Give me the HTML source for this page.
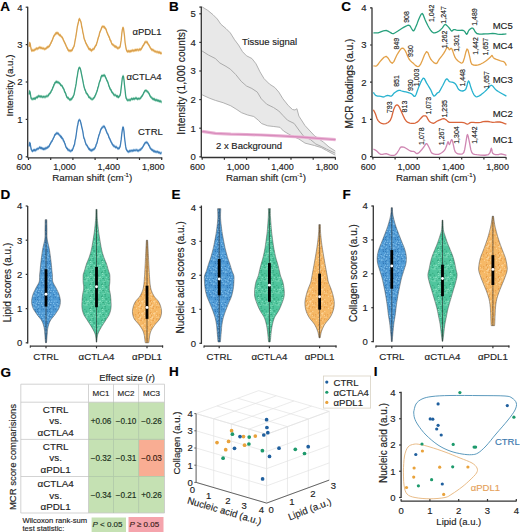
<!DOCTYPE html>
<html><head><meta charset="utf-8"><style>
html,body{margin:0;padding:0;background:#fff;}
svg{display:block;font-family:"Liberation Sans",sans-serif;}
</style></head><body>
<svg width="520" height="532" viewBox="0 0 520 532" font-family="Liberation Sans, sans-serif">
<rect width="520" height="532" fill="#fff"/>
<text x="0.3" y="11" font-size="13.5" text-anchor="start" fill="#000" font-weight="bold"  stroke="#000" stroke-width="0.15">A</text>
<line x1="27.7" y1="6.8" x2="27.7" y2="157.8" stroke="#333" stroke-width="1.3" />
<line x1="25.7" y1="156.8" x2="27.7" y2="156.8" stroke="#333" stroke-width="1.2" />
<text x="22.5" y="160.1" font-size="9.5" text-anchor="end" fill="#222"  stroke="#222" stroke-width="0.15">0</text>
<line x1="25.7" y1="119.4" x2="27.7" y2="119.4" stroke="#333" stroke-width="1.2" />
<text x="22.5" y="122.7" font-size="9.5" text-anchor="end" fill="#222"  stroke="#222" stroke-width="0.15">1</text>
<line x1="25.7" y1="82" x2="27.7" y2="82" stroke="#333" stroke-width="1.2" />
<text x="22.5" y="85.3" font-size="9.5" text-anchor="end" fill="#222"  stroke="#222" stroke-width="0.15">2</text>
<line x1="25.7" y1="44.6" x2="27.7" y2="44.6" stroke="#333" stroke-width="1.2" />
<text x="22.5" y="47.9" font-size="9.5" text-anchor="end" fill="#222"  stroke="#222" stroke-width="0.15">3</text>
<line x1="25.7" y1="7.2" x2="27.7" y2="7.2" stroke="#333" stroke-width="1.2" />
<text x="22.5" y="10.5" font-size="9.5" text-anchor="end" fill="#222"  stroke="#222" stroke-width="0.15">4</text>
<line x1="27.7" y1="157.8" x2="162.3" y2="157.8" stroke="#333" stroke-width="1.3" />
<line x1="28.5" y1="157.8" x2="28.5" y2="160" stroke="#333" stroke-width="1.2" />
<line x1="50.7" y1="157.8" x2="50.7" y2="160" stroke="#333" stroke-width="1.2" />
<line x1="72.9" y1="157.8" x2="72.9" y2="160" stroke="#333" stroke-width="1.2" />
<line x1="95.1" y1="157.8" x2="95.1" y2="160" stroke="#333" stroke-width="1.2" />
<line x1="117.3" y1="157.8" x2="117.3" y2="160" stroke="#333" stroke-width="1.2" />
<line x1="139.5" y1="157.8" x2="139.5" y2="160" stroke="#333" stroke-width="1.2" />
<line x1="161.7" y1="157.8" x2="161.7" y2="160" stroke="#333" stroke-width="1.2" />
<text x="31.3" y="170" font-size="9" text-anchor="end" fill="#222"  stroke="#222" stroke-width="0.15">600</text>
<text x="75.7" y="170" font-size="9" text-anchor="end" fill="#222"  stroke="#222" stroke-width="0.15">1,000</text>
<text x="120.1" y="170" font-size="9" text-anchor="end" fill="#222"  stroke="#222" stroke-width="0.15">1,400</text>
<text x="164.5" y="170" font-size="9" text-anchor="end" fill="#222"  stroke="#222" stroke-width="0.15">1,800</text>
<text x="52.3" y="180.8" font-size="9.8" fill="#222" stroke="#222" stroke-width="0.15">Raman shift (cm<tspan font-size="6" dy="-3.5">-1</tspan><tspan dy="3.5">)</tspan></text>
<text x="12.8" y="85.5" font-size="9.8" text-anchor="middle" fill="#222" transform="rotate(-90 12.8 85.5)"  stroke="#222" stroke-width="0.15">Intensity (a.u.)</text>
<path d="M29.05 144.89 L29.61 141.12 L30.16 141.58 L30.72 145.26 L31.27 148.12 L31.83 148.55 L32.38 149.81 L32.94 149.17 L33.49 148.44 L34.05 148.7 L34.61 148.18 L35.16 149.01 L35.72 148.25 L36.27 148.21 L36.83 147.45 L37.38 147.05 L37.94 147.46 L38.49 146.9 L39.05 146.61 L39.6 145.64 L40.16 145.83 L40.71 146.72 L41.27 146.01 L41.82 147.08 L42.38 146.63 L42.93 147.46 L43.48 147.76 L44.04 146.66 L44.59 147.56 L45.15 147.49 L45.7 146.33 L46.26 146.28 L46.81 146.8 L47.37 145.56 L47.92 145.71 L48.48 145 L49.03 145.01 L49.59 143.27 L50.14 142.74 L50.7 141.37 L51.25 140.36 L51.81 139.97 L52.36 138.64 L52.92 137.63 L53.47 136.42 L54.03 135.36 L54.59 134.01 L55.14 132.73 L55.7 132.88 L56.25 131.55 L56.8 131.82 L57.36 131.91 L57.91 131.48 L58.47 132.37 L59.02 133.13 L59.58 133.52 L60.14 133.86 L60.69 135.37 L61.24 134.78 L61.8 136.74 L62.35 136.51 L62.91 137.25 L63.46 139.39 L64.02 139.53 L64.57 141.4 L65.13 142.48 L65.69 144.61 L66.24 145.84 L66.8 146.79 L67.35 146.71 L67.91 148.49 L68.46 148.3 L69.02 148.46 L69.57 148.69 L70.12 149.61 L70.68 149.58 L71.23 149.18 L71.79 148.49 L72.34 148.8 L72.9 147.05 L73.45 145.7 L74.01 143.89 L74.56 142.76 L75.12 138.79 L75.67 136.75 L76.23 132.89 L76.78 128.88 L77.34 124.95 L77.9 122.63 L78.45 119.43 L79 118.43 L79.56 118.26 L80.12 118.81 L80.67 120.5 L81.22 122.88 L81.78 125.52 L82.33 127.75 L82.89 130.29 L83.44 134.18 L84 136.78 L84.56 137.62 L85.11 139.99 L85.66 141.63 L86.22 143.09 L86.78 143.67 L87.33 144.29 L87.88 145.63 L88.44 146.44 L89 147.6 L89.55 147.03 L90.1 148.7 L90.66 148.45 L91.22 148.22 L91.77 149.28 L92.32 148.42 L92.88 147.92 L93.43 147.97 L93.99 147.19 L94.55 147.35 L95.1 145.94 L95.66 145.14 L96.21 142.82 L96.77 141.98 L97.32 140.01 L97.88 137.38 L98.43 135.6 L98.98 133.43 L99.54 132.18 L100.09 130.3 L100.65 128.33 L101.2 127.28 L101.76 126.44 L102.31 125.54 L102.87 125.48 L103.42 125.12 L103.98 124.57 L104.53 125.19 L105.09 126.46 L105.64 127.66 L106.2 129.07 L106.75 130.7 L107.31 131.82 L107.86 132.54 L108.42 133.83 L108.97 135.9 L109.53 136.68 L110.08 137.98 L110.64 139.29 L111.19 140.45 L111.75 141.32 L112.3 142.74 L112.86 143.05 L113.42 144.27 L113.97 144.53 L114.52 144.58 L115.08 145.04 L115.63 145.86 L116.19 145.23 L116.75 145.86 L117.3 146.17 L117.86 147.15 L118.41 146.6 L118.97 147 L119.52 146.01 L120.08 145.01 L120.63 141.93 L121.18 138.03 L121.74 132.71 L122.29 128.54 L122.85 125.47 L123.41 125.93 L123.96 129.51 L124.52 135.6 L125.07 140.39 L125.62 144.6 L126.18 147.54 L126.73 148.55 L127.29 149.17 L127.84 149.94 L128.4 149.93 L128.95 150.35 L129.51 149.34 L130.06 149.1 L130.62 149.6 L131.18 149.18 L131.73 149.03 L132.28 148.9 L132.84 149.54 L133.39 148.62 L133.95 148.81 L134.5 148.63 L135.06 148.91 L135.62 148.61 L136.17 148.39 L136.72 148.57 L137.28 148.46 L137.83 149.39 L138.39 149.18 L138.94 148.73 L139.5 148.3 L140.06 148.64 L140.61 147.63 L141.17 147.18 L141.72 147.28 L142.27 145.85 L142.83 145.21 L143.38 144.39 L143.94 143.25 L144.5 142.06 L145.05 141.48 L145.61 140.98 L146.16 141.03 L146.72 140.62 L147.27 141.23 L147.82 141.67 L148.38 142.63 L148.94 144.13 L149.49 144.26 L150.04 146.44 L150.6 146.73 L151.16 147.61 L151.71 148.01 L152.26 148.86 L152.82 148.26 L153.38 149.18 L153.93 149.9 L154.48 149.37 L155.04 150.3 L155.59 149.92 L156.15 150.42 L156.71 150.3 L157.26 149.99 L157.81 150.35 L158.37 151.04 L158.92 150.64 L159.48 150.98 L160.03 151.43 L160.59 151.8 L161.14 151.24 L161.7 151.32 L161.7 154.52 L161.14 154.44 L160.59 155 L160.03 154.63 L159.48 154.18 L158.92 153.84 L158.37 154.24 L157.81 153.55 L157.26 153.19 L156.71 153.5 L156.15 153.62 L155.59 153.12 L155.04 153.5 L154.48 152.57 L153.93 153.1 L153.38 152.38 L152.82 151.46 L152.26 152.06 L151.71 151.21 L151.16 150.81 L150.6 149.93 L150.04 149.64 L149.49 147.46 L148.94 147.33 L148.38 145.83 L147.82 144.87 L147.27 144.43 L146.72 143.82 L146.16 144.23 L145.61 144.18 L145.05 144.68 L144.5 145.26 L143.94 146.45 L143.38 147.59 L142.83 148.41 L142.27 149.05 L141.72 150.48 L141.17 150.38 L140.61 150.83 L140.06 151.84 L139.5 151.5 L138.94 151.93 L138.39 152.38 L137.83 152.59 L137.28 151.66 L136.72 151.77 L136.17 151.59 L135.62 151.81 L135.06 152.11 L134.5 151.83 L133.95 152.01 L133.39 151.82 L132.84 152.74 L132.28 152.1 L131.73 152.23 L131.18 152.38 L130.62 152.8 L130.06 152.3 L129.51 152.54 L128.95 153.55 L128.4 153.13 L127.84 153.14 L127.29 152.37 L126.73 151.75 L126.18 150.74 L125.62 147.8 L125.07 143.59 L124.52 138.8 L123.96 132.71 L123.41 129.13 L122.85 128.67 L122.29 131.74 L121.74 135.91 L121.18 141.23 L120.63 145.13 L120.08 148.21 L119.52 149.21 L118.97 150.2 L118.41 149.8 L117.86 150.35 L117.3 149.37 L116.75 149.06 L116.19 148.43 L115.63 149.06 L115.08 148.24 L114.52 147.78 L113.97 147.73 L113.42 147.47 L112.86 146.25 L112.3 145.94 L111.75 144.52 L111.19 143.65 L110.64 142.49 L110.08 141.18 L109.53 139.88 L108.97 139.1 L108.42 137.03 L107.86 135.74 L107.31 135.02 L106.75 133.9 L106.2 132.27 L105.64 130.86 L105.09 129.66 L104.53 128.39 L103.98 127.77 L103.42 128.32 L102.87 128.68 L102.31 128.74 L101.76 129.64 L101.2 130.48 L100.65 131.53 L100.09 133.5 L99.54 135.38 L98.98 136.63 L98.43 138.8 L97.88 140.58 L97.32 143.21 L96.77 145.18 L96.21 146.02 L95.66 148.34 L95.1 149.14 L94.55 150.55 L93.99 150.39 L93.43 151.17 L92.88 151.12 L92.32 151.62 L91.77 152.48 L91.22 151.42 L90.66 151.65 L90.1 151.9 L89.55 150.23 L89 150.8 L88.44 149.64 L87.88 148.83 L87.33 147.49 L86.78 146.87 L86.22 146.29 L85.66 144.83 L85.11 143.19 L84.56 140.82 L84 139.98 L83.44 137.38 L82.89 133.49 L82.33 130.95 L81.78 128.72 L81.22 126.08 L80.67 123.7 L80.12 122.01 L79.56 121.46 L79 121.63 L78.45 122.63 L77.9 125.83 L77.34 128.15 L76.78 132.08 L76.23 136.09 L75.67 139.95 L75.12 141.99 L74.56 145.96 L74.01 147.09 L73.45 148.9 L72.9 150.25 L72.34 152 L71.79 151.69 L71.23 152.38 L70.68 152.78 L70.12 152.81 L69.57 151.89 L69.02 151.66 L68.46 151.5 L67.91 151.69 L67.35 149.91 L66.8 149.99 L66.24 149.04 L65.69 147.81 L65.13 145.68 L64.57 144.6 L64.02 142.73 L63.46 142.59 L62.91 140.45 L62.35 139.71 L61.8 139.94 L61.24 137.98 L60.69 138.57 L60.14 137.06 L59.58 136.72 L59.02 136.33 L58.47 135.57 L57.91 134.68 L57.36 135.11 L56.8 135.02 L56.25 134.75 L55.7 136.08 L55.14 135.93 L54.59 137.21 L54.03 138.56 L53.47 139.62 L52.92 140.83 L52.36 141.84 L51.81 143.17 L51.25 143.56 L50.7 144.57 L50.14 145.94 L49.59 146.47 L49.03 148.21 L48.48 148.2 L47.92 148.91 L47.37 148.76 L46.81 150 L46.26 149.48 L45.7 149.53 L45.15 150.69 L44.59 150.76 L44.04 149.86 L43.48 150.96 L42.93 150.66 L42.38 149.83 L41.82 150.28 L41.27 149.21 L40.71 149.92 L40.16 149.03 L39.6 148.84 L39.05 149.81 L38.49 150.1 L37.94 150.66 L37.38 150.25 L36.83 150.65 L36.27 151.41 L35.72 151.45 L35.16 152.21 L34.61 151.38 L34.05 151.9 L33.49 151.64 L32.94 152.37 L32.38 153.01 L31.83 151.75 L31.27 151.32 L30.72 148.46 L30.16 144.78 L29.61 144.32 L29.05 148.09Z" fill="#a6c9e8" stroke="none"/>
<path d="M29.05 146.49 L29.61 142.72 L30.16 143.18 L30.72 146.86 L31.27 149.72 L31.83 150.15 L32.38 151.41 L32.94 150.77 L33.49 150.04 L34.05 150.3 L34.61 149.78 L35.16 150.61 L35.72 149.85 L36.27 149.81 L36.83 149.05 L37.38 148.65 L37.94 149.06 L38.49 148.5 L39.05 148.21 L39.6 147.24 L40.16 147.43 L40.71 148.32 L41.27 147.61 L41.82 148.68 L42.38 148.23 L42.93 149.06 L43.48 149.36 L44.04 148.26 L44.59 149.16 L45.15 149.09 L45.7 147.93 L46.26 147.88 L46.81 148.4 L47.37 147.16 L47.92 147.31 L48.48 146.6 L49.03 146.61 L49.59 144.87 L50.14 144.34 L50.7 142.97 L51.25 141.96 L51.81 141.57 L52.36 140.24 L52.92 139.23 L53.47 138.02 L54.03 136.96 L54.59 135.61 L55.14 134.33 L55.7 134.48 L56.25 133.15 L56.8 133.42 L57.36 133.51 L57.91 133.08 L58.47 133.97 L59.02 134.73 L59.58 135.12 L60.14 135.46 L60.69 136.97 L61.24 136.38 L61.8 138.34 L62.35 138.11 L62.91 138.85 L63.46 140.99 L64.02 141.13 L64.57 143 L65.13 144.08 L65.69 146.21 L66.24 147.44 L66.8 148.39 L67.35 148.31 L67.91 150.09 L68.46 149.9 L69.02 150.06 L69.57 150.29 L70.12 151.21 L70.68 151.18 L71.23 150.78 L71.79 150.09 L72.34 150.4 L72.9 148.65 L73.45 147.3 L74.01 145.49 L74.56 144.36 L75.12 140.39 L75.67 138.35 L76.23 134.49 L76.78 130.48 L77.34 126.55 L77.9 124.23 L78.45 121.03 L79 120.03 L79.56 119.86 L80.12 120.41 L80.67 122.1 L81.22 124.48 L81.78 127.12 L82.33 129.35 L82.89 131.89 L83.44 135.78 L84 138.38 L84.56 139.22 L85.11 141.59 L85.66 143.23 L86.22 144.69 L86.78 145.27 L87.33 145.89 L87.88 147.23 L88.44 148.04 L89 149.2 L89.55 148.63 L90.1 150.3 L90.66 150.05 L91.22 149.82 L91.77 150.88 L92.32 150.02 L92.88 149.52 L93.43 149.57 L93.99 148.79 L94.55 148.95 L95.1 147.54 L95.66 146.74 L96.21 144.42 L96.77 143.58 L97.32 141.61 L97.88 138.98 L98.43 137.2 L98.98 135.03 L99.54 133.78 L100.09 131.9 L100.65 129.93 L101.2 128.88 L101.76 128.04 L102.31 127.14 L102.87 127.08 L103.42 126.72 L103.98 126.17 L104.53 126.79 L105.09 128.06 L105.64 129.26 L106.2 130.67 L106.75 132.3 L107.31 133.42 L107.86 134.14 L108.42 135.43 L108.97 137.5 L109.53 138.28 L110.08 139.58 L110.64 140.89 L111.19 142.05 L111.75 142.92 L112.3 144.34 L112.86 144.65 L113.42 145.87 L113.97 146.13 L114.52 146.18 L115.08 146.64 L115.63 147.46 L116.19 146.83 L116.75 147.46 L117.3 147.77 L117.86 148.75 L118.41 148.2 L118.97 148.6 L119.52 147.61 L120.08 146.61 L120.63 143.53 L121.18 139.63 L121.74 134.31 L122.29 130.14 L122.85 127.07 L123.41 127.53 L123.96 131.11 L124.52 137.2 L125.07 141.99 L125.62 146.2 L126.18 149.14 L126.73 150.15 L127.29 150.77 L127.84 151.54 L128.4 151.53 L128.95 151.95 L129.51 150.94 L130.06 150.7 L130.62 151.2 L131.18 150.78 L131.73 150.63 L132.28 150.5 L132.84 151.14 L133.39 150.22 L133.95 150.41 L134.5 150.23 L135.06 150.51 L135.62 150.21 L136.17 149.99 L136.72 150.17 L137.28 150.06 L137.83 150.99 L138.39 150.78 L138.94 150.33 L139.5 149.9 L140.06 150.24 L140.61 149.23 L141.17 148.78 L141.72 148.88 L142.27 147.45 L142.83 146.81 L143.38 145.99 L143.94 144.85 L144.5 143.66 L145.05 143.08 L145.61 142.58 L146.16 142.63 L146.72 142.22 L147.27 142.83 L147.82 143.27 L148.38 144.23 L148.94 145.73 L149.49 145.86 L150.04 148.04 L150.6 148.33 L151.16 149.21 L151.71 149.61 L152.26 150.46 L152.82 149.86 L153.38 150.78 L153.93 151.5 L154.48 150.97 L155.04 151.9 L155.59 151.52 L156.15 152.02 L156.71 151.9 L157.26 151.59 L157.81 151.95 L158.37 152.64 L158.92 152.24 L159.48 152.58 L160.03 153.03 L160.59 153.4 L161.14 152.84 L161.7 152.92" stroke="#3f7db8" stroke-width="1.3" fill="none" stroke-linejoin="round" />
<path d="M29.05 92.9 L29.61 89.36 L30.16 90.97 L30.72 94.61 L31.27 97.17 L31.83 97.2 L32.38 97.57 L32.94 97.41 L33.49 97.07 L34.05 97.17 L34.61 96.65 L35.16 97.42 L35.72 96.45 L36.27 95.64 L36.83 95.72 L37.38 96.06 L37.94 94.7 L38.49 94.28 L39.05 94.98 L39.6 94.64 L40.16 94.67 L40.71 95.2 L41.27 94.65 L41.82 95.22 L42.38 95.58 L42.93 95.16 L43.48 95.01 L44.04 95.42 L44.59 95.18 L45.15 95.24 L45.7 95.35 L46.26 94.56 L46.81 94.53 L47.37 94.47 L47.92 94.34 L48.48 93.95 L49.03 92.42 L49.59 91.96 L50.14 91.59 L50.7 90.88 L51.25 89.28 L51.81 88.66 L52.36 87.37 L52.92 85.65 L53.47 84.97 L54.03 82.72 L54.59 82.59 L55.14 80.66 L55.7 80.51 L56.25 80.82 L56.8 79.76 L57.36 80.66 L57.91 80.94 L58.47 80.74 L59.02 81.25 L59.58 81.82 L60.14 82.14 L60.69 83.54 L61.24 83.88 L61.8 84.08 L62.35 84.67 L62.91 86.05 L63.46 87.14 L64.02 87.67 L64.57 90.28 L65.13 90.67 L65.69 91.92 L66.24 93.99 L66.8 95.39 L67.35 95.93 L67.91 96.59 L68.46 96.36 L69.02 97.4 L69.57 98.19 L70.12 97.62 L70.68 98.18 L71.23 97.33 L71.79 97.52 L72.34 96.02 L72.9 95.67 L73.45 94.2 L74.01 93.11 L74.56 90.22 L75.12 87.29 L75.67 84.78 L76.23 81.6 L76.78 77.1 L77.34 74.18 L77.9 70.41 L78.45 67.78 L79 66.27 L79.56 65.95 L80.12 66.65 L80.67 68.31 L81.22 70.94 L81.78 73.69 L82.33 76.5 L82.89 79.35 L83.44 82.36 L84 84.96 L84.56 86.89 L85.11 88.49 L85.66 89.51 L86.22 91.55 L86.78 91.92 L87.33 92.58 L87.88 93.37 L88.44 94.7 L89 95.8 L89.55 95.54 L90.1 96.26 L90.66 96.85 L91.22 97.26 L91.77 97.44 L92.32 97.73 L92.88 97.34 L93.43 96.87 L93.99 96.13 L94.55 95.7 L95.1 94.05 L95.66 93.23 L96.21 91.57 L96.77 90.17 L97.32 88.7 L97.88 85.94 L98.43 84.99 L98.98 82.02 L99.54 80.29 L100.09 79.21 L100.65 77.16 L101.2 75.01 L101.76 73.97 L102.31 74.41 L102.87 73.98 L103.42 73.87 L103.98 74.05 L104.53 73.57 L105.09 74.56 L105.64 76.11 L106.2 77.02 L106.75 78.48 L107.31 79.52 L107.86 80.71 L108.42 82.57 L108.97 84.6 L109.53 85.47 L110.08 87.36 L110.64 87.78 L111.19 88.82 L111.75 90.47 L112.3 90.86 L112.86 91.59 L113.42 92.33 L113.97 93.47 L114.52 93.43 L115.08 93.32 L115.63 93.65 L116.19 93.88 L116.75 95.07 L117.3 94.2 L117.86 95.48 L118.41 95.7 L118.97 94.76 L119.52 94.47 L120.08 93.69 L120.63 91.21 L121.18 86.21 L121.74 81.67 L122.29 76.49 L122.85 74.45 L123.41 74.49 L123.96 78.03 L124.52 83.7 L125.07 88.59 L125.62 93.72 L126.18 96.76 L126.73 97.33 L127.29 98.58 L127.84 98.7 L128.4 98.38 L128.95 98.39 L129.51 98.32 L130.06 98.47 L130.62 98.45 L131.18 97.22 L131.73 97.1 L132.28 97.38 L132.84 97.72 L133.39 96.84 L133.95 97.14 L134.5 97.43 L135.06 96.83 L135.62 96.62 L136.17 96.8 L136.72 96.54 L137.28 97.63 L137.83 97.38 L138.39 96.88 L138.94 97.17 L139.5 97.17 L140.06 96.9 L140.61 96.54 L141.17 95.47 L141.72 94.67 L142.27 94.32 L142.83 93.14 L143.38 92.15 L143.94 90.69 L144.5 89.92 L145.05 89.01 L145.61 88.99 L146.16 88.95 L146.72 89.32 L147.27 90.06 L147.82 90.28 L148.38 91.09 L148.94 91.79 L149.49 92.95 L150.04 94.29 L150.6 94.96 L151.16 95.84 L151.71 96.27 L152.26 96.49 L152.82 97.53 L153.38 97.15 L153.93 97.97 L154.48 97.32 L155.04 98.72 L155.59 98.55 L156.15 98.15 L156.71 98.62 L157.26 99.17 L157.81 98.53 L158.37 99.42 L158.92 98.94 L159.48 99.78 L160.03 99.68 L160.59 99.43 L161.14 100.34 L161.7 100.2 L161.7 103.4 L161.14 103.54 L160.59 102.63 L160.03 102.88 L159.48 102.98 L158.92 102.14 L158.37 102.62 L157.81 101.73 L157.26 102.37 L156.71 101.82 L156.15 101.35 L155.59 101.75 L155.04 101.92 L154.48 100.52 L153.93 101.17 L153.38 100.35 L152.82 100.73 L152.26 99.69 L151.71 99.47 L151.16 99.04 L150.6 98.16 L150.04 97.49 L149.49 96.15 L148.94 94.99 L148.38 94.29 L147.82 93.48 L147.27 93.26 L146.72 92.52 L146.16 92.15 L145.61 92.19 L145.05 92.21 L144.5 93.12 L143.94 93.89 L143.38 95.35 L142.83 96.34 L142.27 97.52 L141.72 97.87 L141.17 98.67 L140.61 99.74 L140.06 100.1 L139.5 100.37 L138.94 100.37 L138.39 100.08 L137.83 100.58 L137.28 100.83 L136.72 99.74 L136.17 100 L135.62 99.82 L135.06 100.03 L134.5 100.63 L133.95 100.34 L133.39 100.04 L132.84 100.92 L132.28 100.58 L131.73 100.3 L131.18 100.42 L130.62 101.65 L130.06 101.67 L129.51 101.52 L128.95 101.59 L128.4 101.58 L127.84 101.9 L127.29 101.78 L126.73 100.53 L126.18 99.96 L125.62 96.92 L125.07 91.79 L124.52 86.9 L123.96 81.23 L123.41 77.69 L122.85 77.65 L122.29 79.69 L121.74 84.87 L121.18 89.41 L120.63 94.41 L120.08 96.89 L119.52 97.67 L118.97 97.96 L118.41 98.9 L117.86 98.68 L117.3 97.4 L116.75 98.27 L116.19 97.08 L115.63 96.85 L115.08 96.52 L114.52 96.63 L113.97 96.67 L113.42 95.53 L112.86 94.79 L112.3 94.06 L111.75 93.67 L111.19 92.02 L110.64 90.98 L110.08 90.56 L109.53 88.67 L108.97 87.8 L108.42 85.77 L107.86 83.91 L107.31 82.72 L106.75 81.68 L106.2 80.22 L105.64 79.31 L105.09 77.76 L104.53 76.77 L103.98 77.25 L103.42 77.07 L102.87 77.18 L102.31 77.61 L101.76 77.17 L101.2 78.21 L100.65 80.36 L100.09 82.41 L99.54 83.49 L98.98 85.22 L98.43 88.19 L97.88 89.14 L97.32 91.9 L96.77 93.37 L96.21 94.77 L95.66 96.43 L95.1 97.25 L94.55 98.9 L93.99 99.33 L93.43 100.07 L92.88 100.54 L92.32 100.93 L91.77 100.64 L91.22 100.46 L90.66 100.05 L90.1 99.46 L89.55 98.74 L89 99 L88.44 97.9 L87.88 96.57 L87.33 95.78 L86.78 95.12 L86.22 94.75 L85.66 92.71 L85.11 91.69 L84.56 90.09 L84 88.16 L83.44 85.56 L82.89 82.55 L82.33 79.7 L81.78 76.89 L81.22 74.14 L80.67 71.51 L80.12 69.85 L79.56 69.15 L79 69.47 L78.45 70.98 L77.9 73.61 L77.34 77.38 L76.78 80.3 L76.23 84.8 L75.67 87.98 L75.12 90.49 L74.56 93.42 L74.01 96.31 L73.45 97.4 L72.9 98.87 L72.34 99.22 L71.79 100.72 L71.23 100.53 L70.68 101.38 L70.12 100.82 L69.57 101.39 L69.02 100.6 L68.46 99.56 L67.91 99.79 L67.35 99.13 L66.8 98.59 L66.24 97.19 L65.69 95.12 L65.13 93.87 L64.57 93.48 L64.02 90.87 L63.46 90.34 L62.91 89.25 L62.35 87.87 L61.8 87.28 L61.24 87.08 L60.69 86.74 L60.14 85.34 L59.58 85.02 L59.02 84.45 L58.47 83.94 L57.91 84.14 L57.36 83.86 L56.8 82.96 L56.25 84.02 L55.7 83.71 L55.14 83.86 L54.59 85.79 L54.03 85.92 L53.47 88.17 L52.92 88.85 L52.36 90.57 L51.81 91.86 L51.25 92.48 L50.7 94.08 L50.14 94.79 L49.59 95.16 L49.03 95.62 L48.48 97.15 L47.92 97.54 L47.37 97.67 L46.81 97.73 L46.26 97.76 L45.7 98.55 L45.15 98.44 L44.59 98.38 L44.04 98.62 L43.48 98.21 L42.93 98.36 L42.38 98.78 L41.82 98.42 L41.27 97.85 L40.71 98.4 L40.16 97.87 L39.6 97.84 L39.05 98.18 L38.49 97.48 L37.94 97.9 L37.38 99.26 L36.83 98.92 L36.27 98.84 L35.72 99.65 L35.16 100.62 L34.61 99.85 L34.05 100.37 L33.49 100.27 L32.94 100.61 L32.38 100.77 L31.83 100.4 L31.27 100.37 L30.72 97.81 L30.16 94.17 L29.61 92.56 L29.05 96.1Z" fill="#a6dbc4" stroke="none"/>
<path d="M29.05 94.5 L29.61 90.96 L30.16 92.57 L30.72 96.21 L31.27 98.77 L31.83 98.8 L32.38 99.17 L32.94 99.01 L33.49 98.67 L34.05 98.77 L34.61 98.25 L35.16 99.02 L35.72 98.05 L36.27 97.24 L36.83 97.32 L37.38 97.66 L37.94 96.3 L38.49 95.88 L39.05 96.58 L39.6 96.24 L40.16 96.27 L40.71 96.8 L41.27 96.25 L41.82 96.82 L42.38 97.18 L42.93 96.76 L43.48 96.61 L44.04 97.02 L44.59 96.78 L45.15 96.84 L45.7 96.95 L46.26 96.16 L46.81 96.13 L47.37 96.07 L47.92 95.94 L48.48 95.55 L49.03 94.02 L49.59 93.56 L50.14 93.19 L50.7 92.48 L51.25 90.88 L51.81 90.26 L52.36 88.97 L52.92 87.25 L53.47 86.57 L54.03 84.32 L54.59 84.19 L55.14 82.26 L55.7 82.11 L56.25 82.42 L56.8 81.36 L57.36 82.26 L57.91 82.54 L58.47 82.34 L59.02 82.85 L59.58 83.42 L60.14 83.74 L60.69 85.14 L61.24 85.48 L61.8 85.68 L62.35 86.27 L62.91 87.65 L63.46 88.74 L64.02 89.27 L64.57 91.88 L65.13 92.27 L65.69 93.52 L66.24 95.59 L66.8 96.99 L67.35 97.53 L67.91 98.19 L68.46 97.96 L69.02 99 L69.57 99.79 L70.12 99.22 L70.68 99.78 L71.23 98.93 L71.79 99.12 L72.34 97.62 L72.9 97.27 L73.45 95.8 L74.01 94.71 L74.56 91.82 L75.12 88.89 L75.67 86.38 L76.23 83.2 L76.78 78.7 L77.34 75.78 L77.9 72.01 L78.45 69.38 L79 67.87 L79.56 67.55 L80.12 68.25 L80.67 69.91 L81.22 72.54 L81.78 75.29 L82.33 78.1 L82.89 80.95 L83.44 83.96 L84 86.56 L84.56 88.49 L85.11 90.09 L85.66 91.11 L86.22 93.15 L86.78 93.52 L87.33 94.18 L87.88 94.97 L88.44 96.3 L89 97.4 L89.55 97.14 L90.1 97.86 L90.66 98.45 L91.22 98.86 L91.77 99.04 L92.32 99.33 L92.88 98.94 L93.43 98.47 L93.99 97.73 L94.55 97.3 L95.1 95.65 L95.66 94.83 L96.21 93.17 L96.77 91.77 L97.32 90.3 L97.88 87.54 L98.43 86.59 L98.98 83.62 L99.54 81.89 L100.09 80.81 L100.65 78.76 L101.2 76.61 L101.76 75.57 L102.31 76.01 L102.87 75.58 L103.42 75.47 L103.98 75.65 L104.53 75.17 L105.09 76.16 L105.64 77.71 L106.2 78.62 L106.75 80.08 L107.31 81.12 L107.86 82.31 L108.42 84.17 L108.97 86.2 L109.53 87.07 L110.08 88.96 L110.64 89.38 L111.19 90.42 L111.75 92.07 L112.3 92.46 L112.86 93.19 L113.42 93.93 L113.97 95.07 L114.52 95.03 L115.08 94.92 L115.63 95.25 L116.19 95.48 L116.75 96.67 L117.3 95.8 L117.86 97.08 L118.41 97.3 L118.97 96.36 L119.52 96.07 L120.08 95.29 L120.63 92.81 L121.18 87.81 L121.74 83.27 L122.29 78.09 L122.85 76.05 L123.41 76.09 L123.96 79.63 L124.52 85.3 L125.07 90.19 L125.62 95.32 L126.18 98.36 L126.73 98.93 L127.29 100.18 L127.84 100.3 L128.4 99.98 L128.95 99.99 L129.51 99.92 L130.06 100.07 L130.62 100.05 L131.18 98.82 L131.73 98.7 L132.28 98.98 L132.84 99.32 L133.39 98.44 L133.95 98.74 L134.5 99.03 L135.06 98.43 L135.62 98.22 L136.17 98.4 L136.72 98.14 L137.28 99.23 L137.83 98.98 L138.39 98.48 L138.94 98.77 L139.5 98.77 L140.06 98.5 L140.61 98.14 L141.17 97.07 L141.72 96.27 L142.27 95.92 L142.83 94.74 L143.38 93.75 L143.94 92.29 L144.5 91.52 L145.05 90.61 L145.61 90.59 L146.16 90.55 L146.72 90.92 L147.27 91.66 L147.82 91.88 L148.38 92.69 L148.94 93.39 L149.49 94.55 L150.04 95.89 L150.6 96.56 L151.16 97.44 L151.71 97.87 L152.26 98.09 L152.82 99.13 L153.38 98.75 L153.93 99.57 L154.48 98.92 L155.04 100.32 L155.59 100.15 L156.15 99.75 L156.71 100.22 L157.26 100.77 L157.81 100.13 L158.37 101.02 L158.92 100.54 L159.48 101.38 L160.03 101.28 L160.59 101.03 L161.14 101.94 L161.7 101.8" stroke="#3a9f7e" stroke-width="1.3" fill="none" stroke-linejoin="round" />
<path d="M29.05 45.24 L29.61 41.04 L30.16 42.09 L30.72 45.31 L31.27 48.1 L31.83 49.39 L32.38 48.48 L32.94 48.87 L33.49 48.78 L34.05 48.7 L34.61 48.28 L35.16 47.82 L35.72 47.5 L36.27 47.24 L36.83 46.7 L37.38 47.18 L37.94 47.05 L38.49 46.4 L39.05 46.27 L39.6 45.82 L40.16 45.7 L40.71 46.47 L41.27 46.14 L41.82 46.64 L42.38 46.72 L42.93 46.75 L43.48 46.73 L44.04 47.21 L44.59 47.58 L45.15 47.16 L45.7 47.17 L46.26 46.66 L46.81 46.33 L47.37 45.33 L47.92 45.78 L48.48 45.07 L49.03 44.87 L49.59 44.25 L50.14 42.81 L50.7 42.11 L51.25 40.6 L51.81 39.53 L52.36 38.31 L52.92 36.8 L53.47 35.28 L54.03 34.28 L54.59 33.36 L55.14 32.83 L55.7 31.98 L56.25 31.09 L56.8 31.98 L57.36 31.69 L57.91 31.03 L58.47 32.46 L59.02 33 L59.58 33.74 L60.14 33.31 L60.69 34.3 L61.24 34.92 L61.8 35.49 L62.35 35.97 L62.91 37.06 L63.46 38.77 L64.02 39.51 L64.57 40.95 L65.13 41.81 L65.69 43.1 L66.24 44.69 L66.8 45.71 L67.35 46.75 L67.91 47.78 L68.46 49.05 L69.02 49.02 L69.57 48.96 L70.12 49.42 L70.68 48.95 L71.23 48.71 L71.79 48.98 L72.34 48.05 L72.9 46.75 L73.45 45.64 L74.01 44.81 L74.56 42.24 L75.12 38.87 L75.67 36.03 L76.23 32.63 L76.78 29.1 L77.34 25 L77.9 22.7 L78.45 20.38 L79 17.7 L79.56 17.21 L80.12 18.92 L80.67 19.56 L81.22 21.48 L81.78 25.46 L82.33 27.3 L82.89 30.98 L83.44 33.02 L84 36.51 L84.56 38.17 L85.11 39.29 L85.66 41.25 L86.22 41.99 L86.78 43.26 L87.33 44.51 L87.88 44.74 L88.44 46.75 L89 47.41 L89.55 47.1 L90.1 48.35 L90.66 47.61 L91.22 49.1 L91.77 49.15 L92.32 47.86 L92.88 47.66 L93.43 47.38 L93.99 47.51 L94.55 46.01 L95.1 45.1 L95.66 43.91 L96.21 43.61 L96.77 41.52 L97.32 39.87 L97.88 37.6 L98.43 35.64 L98.98 34.43 L99.54 31.5 L100.09 30.26 L100.65 28.69 L101.2 27.56 L101.76 25.54 L102.31 25.08 L102.87 25.08 L103.42 24.96 L103.98 25.46 L104.53 25.3 L105.09 26.86 L105.64 26.86 L106.2 28.19 L106.75 30.16 L107.31 31.49 L107.86 32.85 L108.42 33.84 L108.97 35.26 L109.53 36.22 L110.08 38.63 L110.64 38.71 L111.19 40.56 L111.75 42.01 L112.3 42.89 L112.86 42.93 L113.42 43.49 L113.97 44.05 L114.52 44.36 L115.08 45.35 L115.63 44.69 L116.19 45.43 L116.75 45.26 L117.3 46.7 L117.86 46.59 L118.41 46.62 L118.97 45.96 L119.52 45.91 L120.08 45.22 L120.63 42.13 L121.18 38.58 L121.74 32.6 L122.29 28.3 L122.85 26.09 L123.41 26.23 L123.96 30.26 L124.52 34.59 L125.07 40.91 L125.62 44.25 L126.18 47.47 L126.73 49.34 L127.29 49.61 L127.84 50.12 L128.4 49.24 L128.95 49.77 L129.51 50.02 L130.06 49.23 L130.62 49.99 L131.18 49.02 L131.73 49.45 L132.28 49.08 L132.84 48.59 L133.39 49.27 L133.95 49.05 L134.5 48.62 L135.06 49.04 L135.62 48.01 L136.17 48.91 L136.72 47.93 L137.28 47.98 L137.83 48.37 L138.39 48.59 L138.94 48.49 L139.5 47.77 L140.06 47.43 L140.61 48.2 L141.17 47.57 L141.72 46.4 L142.27 45.67 L142.83 44.2 L143.38 43.9 L143.94 42.72 L144.5 41.77 L145.05 40.33 L145.61 40.59 L146.16 40.68 L146.72 40.3 L147.27 40.59 L147.82 41.97 L148.38 42.9 L148.94 43.49 L149.49 44.65 L150.04 45.7 L150.6 46.54 L151.16 47.31 L151.71 48.27 L152.26 47.97 L152.82 48.44 L153.38 48.62 L153.93 49.18 L154.48 49.56 L155.04 49.81 L155.59 49.89 L156.15 50.21 L156.71 50.38 L157.26 50.57 L157.81 50.22 L158.37 50.65 L158.92 51.32 L159.48 50.49 L160.03 50.74 L160.59 51.74 L161.14 51.69 L161.7 51.31 L161.7 54.51 L161.14 54.89 L160.59 54.94 L160.03 53.94 L159.48 53.69 L158.92 54.52 L158.37 53.85 L157.81 53.42 L157.26 53.77 L156.71 53.58 L156.15 53.41 L155.59 53.09 L155.04 53.01 L154.48 52.76 L153.93 52.38 L153.38 51.82 L152.82 51.64 L152.26 51.17 L151.71 51.47 L151.16 50.51 L150.6 49.74 L150.04 48.9 L149.49 47.85 L148.94 46.69 L148.38 46.1 L147.82 45.17 L147.27 43.79 L146.72 43.5 L146.16 43.88 L145.61 43.79 L145.05 43.53 L144.5 44.97 L143.94 45.92 L143.38 47.1 L142.83 47.4 L142.27 48.87 L141.72 49.6 L141.17 50.77 L140.61 51.4 L140.06 50.63 L139.5 50.97 L138.94 51.69 L138.39 51.79 L137.83 51.57 L137.28 51.18 L136.72 51.13 L136.17 52.11 L135.62 51.21 L135.06 52.24 L134.5 51.82 L133.95 52.25 L133.39 52.47 L132.84 51.79 L132.28 52.28 L131.73 52.65 L131.18 52.22 L130.62 53.19 L130.06 52.43 L129.51 53.22 L128.95 52.97 L128.4 52.44 L127.84 53.32 L127.29 52.81 L126.73 52.54 L126.18 50.67 L125.62 47.45 L125.07 44.11 L124.52 37.79 L123.96 33.46 L123.41 29.43 L122.85 29.29 L122.29 31.5 L121.74 35.8 L121.18 41.78 L120.63 45.33 L120.08 48.42 L119.52 49.11 L118.97 49.16 L118.41 49.82 L117.86 49.79 L117.3 49.9 L116.75 48.46 L116.19 48.63 L115.63 47.89 L115.08 48.55 L114.52 47.56 L113.97 47.25 L113.42 46.69 L112.86 46.13 L112.3 46.09 L111.75 45.21 L111.19 43.76 L110.64 41.91 L110.08 41.83 L109.53 39.42 L108.97 38.46 L108.42 37.04 L107.86 36.05 L107.31 34.69 L106.75 33.36 L106.2 31.39 L105.64 30.06 L105.09 30.06 L104.53 28.5 L103.98 28.66 L103.42 28.16 L102.87 28.28 L102.31 28.28 L101.76 28.74 L101.2 30.76 L100.65 31.89 L100.09 33.46 L99.54 34.7 L98.98 37.63 L98.43 38.84 L97.88 40.8 L97.32 43.07 L96.77 44.72 L96.21 46.81 L95.66 47.11 L95.1 48.3 L94.55 49.21 L93.99 50.71 L93.43 50.58 L92.88 50.86 L92.32 51.06 L91.77 52.35 L91.22 52.3 L90.66 50.81 L90.1 51.55 L89.55 50.3 L89 50.61 L88.44 49.95 L87.88 47.94 L87.33 47.71 L86.78 46.46 L86.22 45.19 L85.66 44.45 L85.11 42.49 L84.56 41.37 L84 39.71 L83.44 36.22 L82.89 34.18 L82.33 30.5 L81.78 28.66 L81.22 24.68 L80.67 22.76 L80.12 22.12 L79.56 20.41 L79 20.9 L78.45 23.58 L77.9 25.9 L77.34 28.2 L76.78 32.3 L76.23 35.83 L75.67 39.23 L75.12 42.07 L74.56 45.44 L74.01 48.01 L73.45 48.84 L72.9 49.95 L72.34 51.25 L71.79 52.18 L71.23 51.91 L70.68 52.15 L70.12 52.62 L69.57 52.16 L69.02 52.22 L68.46 52.25 L67.91 50.98 L67.35 49.95 L66.8 48.91 L66.24 47.89 L65.69 46.3 L65.13 45.01 L64.57 44.15 L64.02 42.71 L63.46 41.97 L62.91 40.26 L62.35 39.17 L61.8 38.69 L61.24 38.12 L60.69 37.5 L60.14 36.51 L59.58 36.94 L59.02 36.2 L58.47 35.66 L57.91 34.23 L57.36 34.89 L56.8 35.18 L56.25 34.29 L55.7 35.18 L55.14 36.03 L54.59 36.56 L54.03 37.48 L53.47 38.48 L52.92 40 L52.36 41.51 L51.81 42.73 L51.25 43.8 L50.7 45.31 L50.14 46.01 L49.59 47.45 L49.03 48.07 L48.48 48.27 L47.92 48.98 L47.37 48.53 L46.81 49.53 L46.26 49.86 L45.7 50.37 L45.15 50.36 L44.59 50.78 L44.04 50.41 L43.48 49.93 L42.93 49.95 L42.38 49.92 L41.82 49.84 L41.27 49.34 L40.71 49.67 L40.16 48.9 L39.6 49.02 L39.05 49.47 L38.49 49.6 L37.94 50.25 L37.38 50.38 L36.83 49.9 L36.27 50.44 L35.72 50.7 L35.16 51.02 L34.61 51.48 L34.05 51.9 L33.49 51.98 L32.94 52.07 L32.38 51.68 L31.83 52.59 L31.27 51.3 L30.72 48.51 L30.16 45.29 L29.61 44.24 L29.05 48.44Z" fill="#f7d49c" stroke="none"/>
<path d="M29.05 46.84 L29.61 42.64 L30.16 43.69 L30.72 46.91 L31.27 49.7 L31.83 50.99 L32.38 50.08 L32.94 50.47 L33.49 50.38 L34.05 50.3 L34.61 49.88 L35.16 49.42 L35.72 49.1 L36.27 48.84 L36.83 48.3 L37.38 48.78 L37.94 48.65 L38.49 48 L39.05 47.87 L39.6 47.42 L40.16 47.3 L40.71 48.07 L41.27 47.74 L41.82 48.24 L42.38 48.32 L42.93 48.35 L43.48 48.33 L44.04 48.81 L44.59 49.18 L45.15 48.76 L45.7 48.77 L46.26 48.26 L46.81 47.93 L47.37 46.93 L47.92 47.38 L48.48 46.67 L49.03 46.47 L49.59 45.85 L50.14 44.41 L50.7 43.71 L51.25 42.2 L51.81 41.13 L52.36 39.91 L52.92 38.4 L53.47 36.88 L54.03 35.88 L54.59 34.96 L55.14 34.43 L55.7 33.58 L56.25 32.69 L56.8 33.58 L57.36 33.29 L57.91 32.63 L58.47 34.06 L59.02 34.6 L59.58 35.34 L60.14 34.91 L60.69 35.9 L61.24 36.52 L61.8 37.09 L62.35 37.57 L62.91 38.66 L63.46 40.37 L64.02 41.11 L64.57 42.55 L65.13 43.41 L65.69 44.7 L66.24 46.29 L66.8 47.31 L67.35 48.35 L67.91 49.38 L68.46 50.65 L69.02 50.62 L69.57 50.56 L70.12 51.02 L70.68 50.55 L71.23 50.31 L71.79 50.58 L72.34 49.65 L72.9 48.35 L73.45 47.24 L74.01 46.41 L74.56 43.84 L75.12 40.47 L75.67 37.63 L76.23 34.23 L76.78 30.7 L77.34 26.6 L77.9 24.3 L78.45 21.98 L79 19.3 L79.56 18.81 L80.12 20.52 L80.67 21.16 L81.22 23.08 L81.78 27.06 L82.33 28.9 L82.89 32.58 L83.44 34.62 L84 38.11 L84.56 39.77 L85.11 40.89 L85.66 42.85 L86.22 43.59 L86.78 44.86 L87.33 46.11 L87.88 46.34 L88.44 48.35 L89 49.01 L89.55 48.7 L90.1 49.95 L90.66 49.21 L91.22 50.7 L91.77 50.75 L92.32 49.46 L92.88 49.26 L93.43 48.98 L93.99 49.11 L94.55 47.61 L95.1 46.7 L95.66 45.51 L96.21 45.21 L96.77 43.12 L97.32 41.47 L97.88 39.2 L98.43 37.24 L98.98 36.03 L99.54 33.1 L100.09 31.86 L100.65 30.29 L101.2 29.16 L101.76 27.14 L102.31 26.68 L102.87 26.68 L103.42 26.56 L103.98 27.06 L104.53 26.9 L105.09 28.46 L105.64 28.46 L106.2 29.79 L106.75 31.76 L107.31 33.09 L107.86 34.45 L108.42 35.44 L108.97 36.86 L109.53 37.82 L110.08 40.23 L110.64 40.31 L111.19 42.16 L111.75 43.61 L112.3 44.49 L112.86 44.53 L113.42 45.09 L113.97 45.65 L114.52 45.96 L115.08 46.95 L115.63 46.29 L116.19 47.03 L116.75 46.86 L117.3 48.3 L117.86 48.19 L118.41 48.22 L118.97 47.56 L119.52 47.51 L120.08 46.82 L120.63 43.73 L121.18 40.18 L121.74 34.2 L122.29 29.9 L122.85 27.69 L123.41 27.83 L123.96 31.86 L124.52 36.19 L125.07 42.51 L125.62 45.85 L126.18 49.07 L126.73 50.94 L127.29 51.21 L127.84 51.72 L128.4 50.84 L128.95 51.37 L129.51 51.62 L130.06 50.83 L130.62 51.59 L131.18 50.62 L131.73 51.05 L132.28 50.68 L132.84 50.19 L133.39 50.87 L133.95 50.65 L134.5 50.22 L135.06 50.64 L135.62 49.61 L136.17 50.51 L136.72 49.53 L137.28 49.58 L137.83 49.97 L138.39 50.19 L138.94 50.09 L139.5 49.37 L140.06 49.03 L140.61 49.8 L141.17 49.17 L141.72 48 L142.27 47.27 L142.83 45.8 L143.38 45.5 L143.94 44.32 L144.5 43.37 L145.05 41.93 L145.61 42.19 L146.16 42.28 L146.72 41.9 L147.27 42.19 L147.82 43.57 L148.38 44.5 L148.94 45.09 L149.49 46.25 L150.04 47.3 L150.6 48.14 L151.16 48.91 L151.71 49.87 L152.26 49.57 L152.82 50.04 L153.38 50.22 L153.93 50.78 L154.48 51.16 L155.04 51.41 L155.59 51.49 L156.15 51.81 L156.71 51.98 L157.26 52.17 L157.81 51.82 L158.37 52.25 L158.92 52.92 L159.48 52.09 L160.03 52.34 L160.59 53.34 L161.14 53.29 L161.7 52.91" stroke="#d9a04e" stroke-width="1.3" fill="none" stroke-linejoin="round" />
<text x="138" y="134.5" font-size="9.5" text-anchor="start" fill="#222"  stroke="#222" stroke-width="0.15">CTRL</text>
<text x="126.6" y="80.4" font-size="9.5" text-anchor="start" fill="#222"  stroke="#222" stroke-width="0.15">αCTLA4</text>
<text x="132.4" y="34.6" font-size="9.5" text-anchor="start" fill="#222"  stroke="#222" stroke-width="0.15">αPDL1</text>
<text x="169" y="11" font-size="13.5" text-anchor="start" fill="#000" font-weight="bold"  stroke="#000" stroke-width="0.15">B</text>
<path d="M202.1 6.9 L207.8 10.4 L213 14.7 L217.3 19 L220.8 24.2 L226 28.6 L230.3 32.9 L234.6 39.8 L238.5 45 L242.5 51.7 L246.5 55.8 L251.9 58.5 L256 63.8 L260 71.9 L264 78.6 L269.4 84 L274.8 87.5 L278.8 92.1 L282.9 98.8 L288.3 105.6 L292.5 109.5 L295 110 L296.9 108.7 L298.9 116.1 L305 125.6 L314.4 135.7 L323.8 142.4 L329 147 L335.3 151.1 L335.3 155.2 L326.5 150.5 L321.1 147.5 L314.4 145.5 L305 143.1 L298.9 139 L290.2 135 L283.5 131 L280 127.3 L273.8 126.5 L267.7 125.8 L261.5 123.5 L258.5 120.4 L253.8 116.5 L247.7 115 L241.5 112.7 L236.9 109.6 L230.8 105.8 L223.1 102.7 L215.4 100.4 L209.2 98.1 L202.1 94.8Z" fill="#e8e8e8" stroke="none"/>
<path d="M202.1 6.9 L207.8 10.4 L213 14.7 L217.3 19 L220.8 24.2 L226 28.6 L230.3 32.9 L234.6 39.8 L238.5 45 L242.5 51.7 L246.5 55.8 L251.9 58.5 L256 63.8 L260 71.9 L264 78.6 L269.4 84 L274.8 87.5 L278.8 92.1 L282.9 98.8 L288.3 105.6 L292.5 109.5 L295 110 L296.9 108.7 L298.9 116.1 L305 125.6 L314.4 135.7 L323.8 142.4 L329 147 L335.3 151.1" stroke="#a9a9a9" stroke-width="0.9" fill="none" stroke-linejoin="round" />
<path d="M202.1 94.8 L209.2 98.1 L215.4 100.4 L223.1 102.7 L230.8 105.8 L236.9 109.6 L241.5 112.7 L247.7 115 L253.8 116.5 L258.5 120.4 L261.5 123.5 L267.7 125.8 L273.8 126.5 L280 127.3 L283.5 131 L290.2 135 L298.9 139 L305 143.1 L314.4 145.5 L321.1 147.5 L326.5 150.5 L335.3 155.2" stroke="#a9a9a9" stroke-width="0.9" fill="none" stroke-linejoin="round" />
<path d="M202.1 51 L208.4 55 L215.3 58.5 L219.9 63 L226 66.4 L230.4 69.2 L235.8 74.6 L241.2 81.3 L246.5 86 L251.9 88.5 L257.3 92.1 L261.3 98.8 L266.7 104.2 L273.5 107.5 L278.8 111 L283 115.5 L287.5 120.2 L294.2 123.5 L299.6 131 L303.7 136.3 L310.4 139.5 L315.8 144 L321.2 146.4 L326.5 149.1 L335.3 153.2" stroke="#a4a4a4" stroke-width="0.9" fill="none" stroke-linejoin="round" />
<path d="M202.2 131.4 L215.4 133.3 L230.8 134.1 L246.2 134.5 L261.5 135 L280 135.8 L300 137 L318 138.4 L335.6 139.7" stroke="#ebb6d6" stroke-width="3.2" fill="none" stroke-linejoin="round" stroke-linecap="butt"/>
<path d="M202.2 131.4 L215.4 133.3 L230.8 134.1 L246.2 134.5 L261.5 135 L280 135.8 L300 137 L318 138.4 L335.6 139.7" stroke="#d88cbc" stroke-width="1.3" fill="none" stroke-linejoin="round" />
<line x1="201.3" y1="6.5" x2="201.3" y2="157.5" stroke="#333" stroke-width="1.3" />
<line x1="199.3" y1="7.1" x2="201.3" y2="7.1" stroke="#333" stroke-width="1.2" />
<line x1="199.3" y1="156.8" x2="201.3" y2="156.8" stroke="#333" stroke-width="1.2" />
<text x="195.9" y="160.1" font-size="9.5" text-anchor="end" fill="#222"  stroke="#222" stroke-width="0.15">0</text>
<line x1="199.3" y1="128.2" x2="201.3" y2="128.2" stroke="#333" stroke-width="1.2" />
<text x="195.9" y="131.5" font-size="9.5" text-anchor="end" fill="#222"  stroke="#222" stroke-width="0.15">1</text>
<line x1="199.3" y1="99.6" x2="201.3" y2="99.6" stroke="#333" stroke-width="1.2" />
<text x="195.9" y="102.9" font-size="9.5" text-anchor="end" fill="#222"  stroke="#222" stroke-width="0.15">2</text>
<line x1="199.3" y1="71" x2="201.3" y2="71" stroke="#333" stroke-width="1.2" />
<text x="195.9" y="74.3" font-size="9.5" text-anchor="end" fill="#222"  stroke="#222" stroke-width="0.15">3</text>
<line x1="199.3" y1="42.4" x2="201.3" y2="42.4" stroke="#333" stroke-width="1.2" />
<text x="195.9" y="45.7" font-size="9.5" text-anchor="end" fill="#222"  stroke="#222" stroke-width="0.15">4</text>
<line x1="199.3" y1="13.8" x2="201.3" y2="13.8" stroke="#333" stroke-width="1.2" />
<text x="195.9" y="17.1" font-size="9.5" text-anchor="end" fill="#222"  stroke="#222" stroke-width="0.15">5</text>
<line x1="201.3" y1="157.5" x2="335.8" y2="157.5" stroke="#333" stroke-width="1.3" />
<line x1="202.2" y1="157.5" x2="202.2" y2="159.7" stroke="#333" stroke-width="1.2" />
<line x1="224.4" y1="157.5" x2="224.4" y2="159.7" stroke="#333" stroke-width="1.2" />
<line x1="246.6" y1="157.5" x2="246.6" y2="159.7" stroke="#333" stroke-width="1.2" />
<line x1="268.8" y1="157.5" x2="268.8" y2="159.7" stroke="#333" stroke-width="1.2" />
<line x1="291" y1="157.5" x2="291" y2="159.7" stroke="#333" stroke-width="1.2" />
<line x1="313.2" y1="157.5" x2="313.2" y2="159.7" stroke="#333" stroke-width="1.2" />
<line x1="335.4" y1="157.5" x2="335.4" y2="159.7" stroke="#333" stroke-width="1.2" />
<text x="205" y="170" font-size="9" text-anchor="end" fill="#222"  stroke="#222" stroke-width="0.15">600</text>
<text x="249.4" y="170" font-size="9" text-anchor="end" fill="#222"  stroke="#222" stroke-width="0.15">1,000</text>
<text x="293.8" y="170" font-size="9" text-anchor="end" fill="#222"  stroke="#222" stroke-width="0.15">1,400</text>
<text x="338.2" y="170" font-size="9" text-anchor="end" fill="#222"  stroke="#222" stroke-width="0.15">1,800</text>
<text x="226" y="180.8" font-size="9.8" fill="#222" stroke="#222" stroke-width="0.15">Raman shift (cm<tspan font-size="6" dy="-3.5">-1</tspan><tspan dy="3.5">)</tspan></text>
<text x="185" y="81.7" font-size="10.2" text-anchor="middle" fill="#222" transform="rotate(-90 185 81.7)"  stroke="#222" stroke-width="0.15">Intensity (1,000 counts)</text>
<text x="242" y="45" font-size="9.5" text-anchor="start" fill="#222"  stroke="#222" stroke-width="0.15">Tissue signal</text>
<text x="216" y="148.7" font-size="9.5" text-anchor="start" fill="#222"  stroke="#222" stroke-width="0.15">2 x Background</text>
<text x="341.2" y="11" font-size="13.5" text-anchor="start" fill="#000" font-weight="bold"  stroke="#000" stroke-width="0.15">C</text>
<path d="M373.4 32.8 L374.65 32.86 L376.42 32.91 L378.1 32.8 L379.45 32.39 L380.71 31.8 L382 31.3 L383.41 30.9 L384.86 30.57 L386.2 30.5 L387.36 30.82 L388.43 31.4 L389.5 32 L390.66 32.66 L391.82 33.34 L392.9 33.7 L393.82 33.53 L394.65 33.04 L395.5 32.5 L396.33 32.03 L397.17 31.51 L398.3 30.8 L399.88 29.75 L401.73 28.51 L403.6 27.4 L405.5 26.37 L407.41 25.48 L409 25.2 L410.06 25.93 L410.8 27.27 L411.5 28.5 L412.24 29.63 L412.94 30.64 L413.7 30.8 L414.56 29.63 L415.48 27.6 L416.4 25.4 L417.29 23.14 L418.17 20.71 L419.1 18.5 L420.11 16.27 L421.16 14.24 L422.2 13.5 L423.17 14.76 L424.13 17.3 L425.2 20 L426.46 22.67 L427.82 25.51 L429.2 28 L430.54 30.06 L431.89 31.76 L433.3 32.8 L434.81 32.96 L436.37 32.47 L437.9 31.7 L439.41 30.69 L440.88 29.39 L442.2 28.1 L443.24 26.66 L444.13 25.22 L445.1 24.5 L446.27 24.96 L447.53 26.14 L448.7 27.4 L449.74 28.73 L450.71 30.14 L451.6 31 L452.31 30.83 L452.94 30.1 L453.8 29.6 L455.03 29.69 L456.49 30.02 L458.1 30.3 L460 30.3 L462.06 30.26 L463.8 30.6 L465 31.87 L465.89 33.51 L466.7 34.3 L467.42 33.47 L468.07 31.79 L468.9 30.3 L470.07 29.15 L471.43 28.2 L472.8 28.1 L473.95 29.52 L475.11 31.79 L476.8 33.5 L479.41 34.03 L482.54 34.01 L485.5 33.9 L488.01 33.78 L490.36 33.57 L492.7 33.5 L495.13 33.72 L497.55 34.08 L499.9 34.3 L502.36 34.24 L504.74 34.05 L506.4 33.9" stroke="#27a07c" stroke-width="1.3" fill="none" stroke-linejoin="round" />
<path d="M373.4 65.8 L374.26 65.95 L375.48 66.1 L376.7 65.8 L377.69 64.79 L378.69 63.31 L380 61.7 L381.86 59.54 L384.04 57.23 L386.2 56.3 L388.26 58.28 L390.3 61.64 L392.2 63.3 L393.86 61.61 L395.38 58.21 L396.9 55 L398.51 52.33 L400.13 49.83 L401.6 48.3 L402.81 48.07 L403.87 48.81 L405 50.3 L406.29 52.88 L407.64 56.2 L409 59 L410.33 60.7 L411.66 61.89 L413 63 L414.39 64.38 L415.78 65.69 L417.1 66.4 L418.19 66.53 L419.2 66.07 L420.5 64.4 L422.38 60.19 L424.54 54.77 L426.5 51.6 L427.96 52.67 L429.21 55.99 L430.6 59 L432.38 61.11 L434.31 62.92 L436 63.7 L437.21 62.9 L438.2 61.06 L439.3 59.1 L440.71 57.3 L442.25 55.37 L443.7 53.4 L445.01 51.08 L446.24 48.71 L447.3 47.3 L448.13 47.64 L448.8 48.94 L449.4 49.8 L449.95 49.49 L450.43 48.73 L450.9 48.3 L451.32 48.34 L451.73 48.71 L452.3 49.8 L453.1 52.09 L454.07 55.1 L455.2 57.7 L456.56 59.56 L458.07 61.02 L459.5 62 L460.74 62.8 L461.9 63.12 L463.1 62 L464.43 57.88 L465.79 52.31 L467 49 L467.98 49.91 L468.81 53.07 L469.6 56.3 L470.2 59.16 L470.76 62.08 L471.8 64.2 L473.62 65.13 L475.92 65.25 L478.3 64.9 L480.73 64.04 L483.24 62.71 L485.5 61.3 L487.46 59.81 L489.17 58.25 L490.5 57 L491.24 56.13 L491.59 55.57 L492 55.5 L492.52 56.17 L493.1 57.32 L494.1 58.4 L495.81 59.21 L497.94 59.95 L499.9 60.6 L501.52 61.04 L502.98 61.4 L504.2 62 L505.17 63.17 L505.91 64.59 L506.4 65.6" stroke="#e3a148" stroke-width="1.3" fill="none" stroke-linejoin="round" />
<path d="M373.4 92.3 L374.03 93.29 L374.95 94.65 L376.1 95.7 L377.59 96.1 L379.31 96.2 L380.8 96.3 L381.8 96.61 L382.58 96.94 L383.5 97 L384.74 96.52 L386.12 95.77 L387.5 95.3 L388.88 95.53 L390.26 96.03 L391.5 96.1 L392.42 95.34 L393.2 94.15 L394.2 93 L395.67 91.94 L397.36 90.92 L398.9 90.3 L400.06 90.33 L401.07 90.75 L402.3 91.2 L404 91.53 L405.93 91.89 L407.7 92.3 L409.16 92.77 L410.46 93.29 L411.7 93.9 L412.88 95.05 L413.99 96.29 L415.1 96.3 L416.19 94.25 L417.27 90.96 L418.5 87.6 L420.02 84 L421.69 80.31 L423.2 78.2 L424.37 78.65 L425.39 80.66 L426.5 82.9 L427.84 84.99 L429.26 87.31 L430.6 89.6 L431.76 92.14 L432.82 94.65 L433.9 96.1 L435.08 95.71 L436.27 94.26 L437.3 93 L438.01 92.63 L438.57 92.45 L439.3 91.7 L440.38 89.91 L441.64 87.55 L442.9 85.2 L444.13 82.72 L445.35 80.25 L446.5 78.8 L447.49 79.13 L448.41 80.47 L449.4 81.6 L450.57 81.97 L451.83 82.11 L453 82.4 L454.02 82.89 L454.96 83.53 L455.9 84.5 L456.84 86.11 L457.78 88.06 L458.8 89.6 L459.95 90.47 L461.17 90.94 L462.4 91 L463.64 90.74 L464.88 90.09 L466 88.8 L466.91 86.03 L467.7 82.63 L468.5 80.9 L469.35 82.21 L470.21 85.19 L471.1 88.1 L472.01 90.48 L472.95 92.78 L473.9 94.6 L474.8 95.81 L475.72 96.55 L476.8 96.8 L478.13 96.47 L479.63 95.65 L481.2 94.6 L482.82 93.35 L484.5 91.87 L486.2 90.3 L487.92 88.31 L489.66 86.23 L491.3 85.2 L492.79 86.02 L494.2 87.89 L495.6 89.6 L496.95 90.65 L498.3 91.54 L499.9 92.5 L502.14 93.78 L504.63 95.14 L506.4 96.1" stroke="#27b2cf" stroke-width="1.3" fill="none" stroke-linejoin="round" />
<path d="M373.4 109.8 L373.89 110.73 L374.61 112.11 L375.4 113.8 L376.15 115.99 L376.97 118.49 L378.1 120.6 L379.65 122.2 L381.5 123.42 L383.5 123.9 L385.76 123.57 L388.16 122.5 L390.2 120.6 L391.61 117.33 L392.65 113.23 L393.6 109.8 L394.52 107.56 L395.36 106 L396.2 105.1 L397.07 104.86 L397.94 105.29 L398.9 106.4 L399.96 108.41 L401.1 111.11 L402.3 113.8 L403.54 116.46 L404.84 119.13 L406.3 121.2 L408 122.41 L409.85 123.03 L411.7 123.3 L413.5 123.34 L415.3 123.03 L417.1 122.2 L419.03 120.45 L420.95 118.19 L422.5 116.5 L423.42 115.88 L423.96 115.82 L424.5 115.9 L425.14 115.86 L425.78 115.95 L426.5 116.5 L427.3 117.86 L428.17 119.67 L429.2 121.2 L430.5 122.24 L431.95 122.99 L433.3 123.3 L434.45 122.97 L435.5 122.21 L436.5 121.5 L437.4 121 L438.26 120.55 L439.3 120.1 L440.71 119.53 L442.29 118.96 L443.7 118.7 L444.75 118.93 L445.62 119.47 L446.5 120.1 L447.3 120.86 L448.11 121.7 L449.4 122.3 L451.48 122.45 L454.04 122.35 L456.6 122.3 L459.13 122.36 L461.66 122.47 L463.8 122.7 L465.3 123.24 L466.4 123.91 L467.5 124.2 L468.57 123.73 L469.64 122.89 L471.1 122.3 L473.23 122.33 L475.77 122.61 L478.3 122.7 L480.7 122.28 L483.1 121.66 L485.5 121.3 L487.9 121.5 L490.3 121.97 L492.7 122.3 L495.13 122.2 L497.55 121.96 L499.9 122 L502.36 122.63 L504.74 123.54 L506.4 124.2" stroke="#d9653a" stroke-width="1.3" fill="none" stroke-linejoin="round" />
<path d="M373.4 149 L374.23 149.47 L375.42 150.16 L376.7 151 L377.96 152.18 L379.31 153.52 L380.8 154.4 L382.56 154.39 L384.46 153.93 L386.2 153.7 L387.61 154.06 L388.87 154.66 L390.2 155.1 L391.76 155.36 L393.4 155.46 L394.9 155.1 L396.16 154.03 L397.27 152.51 L398.3 151 L399.2 149.49 L400.03 147.98 L401 147 L402.19 146.79 L403.51 147.1 L405 147.7 L406.75 148.7 L408.65 150 L410.4 151 L411.89 151.38 L413.21 151.47 L414.4 151.7 L415.37 152.44 L416.2 153.33 L417.1 153.7 L418.19 153.2 L419.35 152.17 L420.5 151 L421.63 149.74 L422.75 148.34 L423.8 147 L424.74 145.54 L425.62 144.16 L426.5 143.6 L427.4 144.36 L428.3 145.96 L429.2 147.7 L430 149.56 L430.8 151.56 L431.9 153.1 L433.57 153.93 L435.54 154.3 L437.3 154.4 L438.6 154.28 L439.7 153.89 L440.8 153.3 L442.05 152.52 L443.31 151.54 L444.4 150.4 L445.23 149.07 L445.9 147.59 L446.5 146.1 L447.05 144.37 L447.53 142.63 L448 141.7 L448.44 142.42 L448.88 143.95 L449.4 144.6 L450.1 143.2 L450.9 140.92 L451.6 139.6 L452.1 139.98 L452.5 141.31 L453 143.2 L453.6 145.93 L454.28 149.22 L455.2 151.8 L456.48 153.14 L457.99 153.78 L459.5 154 L461.01 154.12 L462.52 153.83 L463.8 152.5 L464.71 149.46 L465.4 145.38 L466 141.7 L466.53 138.44 L466.98 135.59 L467.5 134.5 L468.15 136.2 L468.87 139.67 L469.6 143.2 L470.22 146.52 L470.86 149.9 L471.8 152.5 L473.01 153.84 L474.54 154.39 L476.8 154.7 L480.5 155.1 L484.93 155.26 L488.4 154.7 L490.07 152.59 L490.77 149.75 L491.3 148.2 L491.77 149.18 L492.07 151.44 L492.7 153.3 L493.92 154.12 L495.46 154.53 L497 154.7 L498.4 154.54 L499.81 154.16 L501.3 154 L503.13 154.36 L505.05 154.96 L506.4 155.4" stroke="#cf86b2" stroke-width="1.3" fill="none" stroke-linejoin="round" />
<line x1="372" y1="7.5" x2="372" y2="157.3" stroke="#333" stroke-width="1.3" />
<line x1="370" y1="156.6" x2="372" y2="156.6" stroke="#333" stroke-width="1.2" />
<text x="366.6" y="159.9" font-size="9.5" text-anchor="end" fill="#222"  stroke="#222" stroke-width="0.15">0</text>
<line x1="370" y1="119.4" x2="372" y2="119.4" stroke="#333" stroke-width="1.2" />
<text x="366.6" y="122.7" font-size="9.5" text-anchor="end" fill="#222"  stroke="#222" stroke-width="0.15">1</text>
<line x1="370" y1="82.2" x2="372" y2="82.2" stroke="#333" stroke-width="1.2" />
<text x="366.6" y="85.5" font-size="9.5" text-anchor="end" fill="#222"  stroke="#222" stroke-width="0.15">2</text>
<line x1="370" y1="45" x2="372" y2="45" stroke="#333" stroke-width="1.2" />
<text x="366.6" y="48.3" font-size="9.5" text-anchor="end" fill="#222"  stroke="#222" stroke-width="0.15">3</text>
<line x1="370" y1="7.8" x2="372" y2="7.8" stroke="#333" stroke-width="1.2" />
<text x="366.6" y="11.1" font-size="9.5" text-anchor="end" fill="#222"  stroke="#222" stroke-width="0.15">4</text>
<line x1="372" y1="157.3" x2="506.3" y2="157.3" stroke="#333" stroke-width="1.3" />
<line x1="372.9" y1="157.3" x2="372.9" y2="159.5" stroke="#333" stroke-width="1.2" />
<line x1="395.1" y1="157.3" x2="395.1" y2="159.5" stroke="#333" stroke-width="1.2" />
<line x1="417.3" y1="157.3" x2="417.3" y2="159.5" stroke="#333" stroke-width="1.2" />
<line x1="439.5" y1="157.3" x2="439.5" y2="159.5" stroke="#333" stroke-width="1.2" />
<line x1="461.7" y1="157.3" x2="461.7" y2="159.5" stroke="#333" stroke-width="1.2" />
<line x1="483.9" y1="157.3" x2="483.9" y2="159.5" stroke="#333" stroke-width="1.2" />
<line x1="506.1" y1="157.3" x2="506.1" y2="159.5" stroke="#333" stroke-width="1.2" />
<text x="375.7" y="170" font-size="9" text-anchor="end" fill="#222"  stroke="#222" stroke-width="0.15">600</text>
<text x="420.1" y="170" font-size="9" text-anchor="end" fill="#222"  stroke="#222" stroke-width="0.15">1,000</text>
<text x="464.5" y="170" font-size="9" text-anchor="end" fill="#222"  stroke="#222" stroke-width="0.15">1,400</text>
<text x="508.9" y="170" font-size="9" text-anchor="end" fill="#222"  stroke="#222" stroke-width="0.15">1,800</text>
<text x="396" y="180.8" font-size="9.8" fill="#222" stroke="#222" stroke-width="0.15">Raman shift (cm<tspan font-size="6" dy="-3.5">-1</tspan><tspan dy="3.5">)</tspan></text>
<text x="353.2" y="83.5" font-size="10.1" text-anchor="middle" fill="#222" transform="rotate(-90 353.2 83.5)"  stroke="#222" stroke-width="0.15">MCR loadings (a.u.)</text>
<text x="492.7" y="28.8" font-size="9.5" text-anchor="start" fill="#222"  stroke="#222" stroke-width="0.15">MC5</text>
<text x="492.7" y="48.8" font-size="9.5" text-anchor="start" fill="#222"  stroke="#222" stroke-width="0.15">MC4</text>
<text x="492.7" y="82.7" font-size="9.5" text-anchor="start" fill="#222"  stroke="#222" stroke-width="0.15">MC3</text>
<text x="492.7" y="116.8" font-size="9.5" text-anchor="start" fill="#222"  stroke="#222" stroke-width="0.15">MC2</text>
<text x="492.7" y="142.8" font-size="9.5" text-anchor="start" fill="#222"  stroke="#222" stroke-width="0.15">MC1</text>
<text x="408.8" y="22.8" font-size="7" text-anchor="start" fill="#222" transform="rotate(-90 408.8 22.8)"  stroke="#222" stroke-width="0.15">908</text>
<text x="433.7" y="22.1" font-size="7" text-anchor="start" fill="#222" transform="rotate(-90 433.7 22.1)"  stroke="#222" stroke-width="0.15">1,042</text>
<text x="446.2" y="23.7" font-size="7" text-anchor="start" fill="#222" transform="rotate(-90 446.2 23.7)"  stroke="#222" stroke-width="0.15">1,247</text>
<text x="476.8" y="25.8" font-size="7" text-anchor="start" fill="#222" transform="rotate(-90 476.8 25.8)"  stroke="#222" stroke-width="0.15">1,489</text>
<text x="398.7" y="49.5" font-size="7" text-anchor="start" fill="#222" transform="rotate(-90 398.7 49.5)"  stroke="#222" stroke-width="0.15">849</text>
<text x="413.5" y="56.9" font-size="7" text-anchor="start" fill="#222" transform="rotate(-90 413.5 56.9)"  stroke="#222" stroke-width="0.15">930</text>
<text x="446.8" y="48.2" font-size="7" text-anchor="start" fill="#222" transform="rotate(-90 446.8 48.2)"  stroke="#222" stroke-width="0.15">1,262</text>
<text x="459.5" y="51.8" font-size="7" text-anchor="start" fill="#222" transform="rotate(-90 459.5 51.8)"  stroke="#222" stroke-width="0.15">1,301</text>
<text x="477.6" y="54.7" font-size="7" text-anchor="start" fill="#222" transform="rotate(-90 477.6 54.7)"  stroke="#222" stroke-width="0.15">1,442</text>
<text x="487.6" y="55.4" font-size="7" text-anchor="start" fill="#222" transform="rotate(-90 487.6 55.4)"  stroke="#222" stroke-width="0.15">1,657</text>
<text x="399.5" y="86.8" font-size="7" text-anchor="start" fill="#222" transform="rotate(-90 399.5 86.8)"  stroke="#222" stroke-width="0.15">851</text>
<text x="413.2" y="90.9" font-size="7" text-anchor="start" fill="#222" transform="rotate(-90 413.2 90.9)"  stroke="#222" stroke-width="0.15">930</text>
<text x="418.9" y="86.2" font-size="7" text-anchor="start" fill="#222" transform="rotate(-90 418.9 86.2)"  stroke="#222" stroke-width="0.15">1,003</text>
<text x="465" y="86.6" font-size="7" text-anchor="start" fill="#222" transform="rotate(-90 465 86.6)"  stroke="#222" stroke-width="0.15">1,448</text>
<text x="489" y="88.7" font-size="7" text-anchor="start" fill="#222" transform="rotate(-90 489 88.7)"  stroke="#222" stroke-width="0.15">1,657</text>
<text x="391.6" y="113.1" font-size="7" text-anchor="start" fill="#222" transform="rotate(-90 391.6 113.1)"  stroke="#222" stroke-width="0.15">793</text>
<text x="406.8" y="112.4" font-size="7" text-anchor="start" fill="#222" transform="rotate(-90 406.8 112.4)"  stroke="#222" stroke-width="0.15">813</text>
<text x="431.5" y="114.4" font-size="7" text-anchor="start" fill="#222" transform="rotate(-90 431.5 114.4)"  stroke="#222" stroke-width="0.15">1,073</text>
<text x="446.8" y="117.6" font-size="7" text-anchor="start" fill="#222" transform="rotate(-90 446.8 117.6)"  stroke="#222" stroke-width="0.15">1,235</text>
<text x="423.6" y="144.9" font-size="7" text-anchor="start" fill="#222" transform="rotate(-90 423.6 144.9)"  stroke="#222" stroke-width="0.15">1,078</text>
<text x="444.3" y="145.2" font-size="7" text-anchor="start" fill="#222" transform="rotate(-90 444.3 145.2)"  stroke="#222" stroke-width="0.15">1,267</text>
<text x="458.8" y="143.8" font-size="7" text-anchor="start" fill="#222" transform="rotate(-90 458.8 143.8)"  stroke="#222" stroke-width="0.15">1,304</text>
<text x="477.3" y="143.8" font-size="7" text-anchor="start" fill="#222" transform="rotate(-90 477.3 143.8)"  stroke="#222" stroke-width="0.15">1,442</text>
<defs><pattern id="spb" width="12" height="12" patternUnits="userSpaceOnUse"><rect width="12" height="12" fill="#4f9ad5"/><rect x="5.0" y="6.2" width="1" height="1" fill="#2f76b6"/><rect x="10.2" y="5.1" width="1" height="1" fill="#88c5ef"/><rect x="5.6" y="6.5" width="1" height="1" fill="#2f76b6"/><rect x="2.0" y="5.6" width="1" height="1" fill="#88c5ef"/><rect x="6.9" y="8.7" width="1" height="1" fill="#2f76b6"/><rect x="1.0" y="3.3" width="1" height="1" fill="#88c5ef"/><rect x="1.0" y="8.9" width="1" height="1" fill="#2f76b6"/><rect x="7.6" y="0.5" width="1" height="1" fill="#88c5ef"/><rect x="10.8" y="10.6" width="1" height="1" fill="#2f76b6"/><rect x="7.2" y="6.8" width="1" height="1" fill="#88c5ef"/><rect x="1.7" y="0.2" width="1" height="1" fill="#2f76b6"/><rect x="5.8" y="0.7" width="1" height="1" fill="#88c5ef"/><rect x="2.1" y="2.7" width="1" height="1" fill="#2f76b6"/><rect x="0.3" y="5.1" width="1" height="1" fill="#88c5ef"/><rect x="4.8" y="9.3" width="1" height="1" fill="#2f76b6"/><rect x="5.7" y="7.0" width="1" height="1" fill="#88c5ef"/><rect x="5.5" y="7.3" width="1" height="1" fill="#2f76b6"/><rect x="5.0" y="3.1" width="1" height="1" fill="#88c5ef"/><rect x="11.0" y="11.0" width="1" height="1" fill="#2f76b6"/><rect x="9.2" y="7.8" width="1" height="1" fill="#88c5ef"/><rect x="3.5" y="2.5" width="1" height="1" fill="#2f76b6"/><rect x="3.2" y="0.8" width="1" height="1" fill="#88c5ef"/><rect x="8.4" y="4.4" width="1" height="1" fill="#2f76b6"/><rect x="9.3" y="4.3" width="1" height="1" fill="#88c5ef"/><rect x="10.5" y="9.3" width="1" height="1" fill="#2f76b6"/><rect x="0.0" y="2.3" width="1" height="1" fill="#88c5ef"/><rect x="10.0" y="5.2" width="1" height="1" fill="#2f76b6"/><rect x="10.8" y="4.4" width="1" height="1" fill="#88c5ef"/><rect x="0.8" y="6.9" width="1" height="1" fill="#2f76b6"/><rect x="8.6" y="3.0" width="1" height="1" fill="#88c5ef"/><rect x="1.0" y="3.7" width="1" height="1" fill="#2f76b6"/><rect x="10.6" y="8.3" width="1" height="1" fill="#88c5ef"/><rect x="1.3" y="2.7" width="1" height="1" fill="#2f76b6"/><rect x="1.1" y="0.7" width="1" height="1" fill="#88c5ef"/><rect x="8.8" y="2.0" width="1" height="1" fill="#2f76b6"/><rect x="6.2" y="4.9" width="1" height="1" fill="#88c5ef"/><rect x="2.1" y="8.1" width="1" height="1" fill="#2f76b6"/><rect x="1.4" y="7.1" width="1" height="1" fill="#88c5ef"/><rect x="1.3" y="4.6" width="1" height="1" fill="#2f76b6"/><rect x="2.3" y="3.0" width="1" height="1" fill="#88c5ef"/><rect x="10.7" y="8.8" width="1" height="1" fill="#2f76b6"/><rect x="3.3" y="9.7" width="1" height="1" fill="#88c5ef"/><rect x="2.3" y="4.3" width="1" height="1" fill="#2f76b6"/><rect x="9.4" y="7.1" width="1" height="1" fill="#88c5ef"/><rect x="1.1" y="10.9" width="1" height="1" fill="#2f76b6"/><rect x="2.3" y="2.8" width="1" height="1" fill="#88c5ef"/></pattern><pattern id="spg" width="12" height="12" patternUnits="userSpaceOnUse"><rect width="12" height="12" fill="#50c59d"/><rect x="10.2" y="10.4" width="1" height="1" fill="#2ea57a"/><rect x="9.8" y="0.9" width="1" height="1" fill="#8de6c5"/><rect x="6.5" y="4.7" width="1" height="1" fill="#2ea57a"/><rect x="5.8" y="1.4" width="1" height="1" fill="#8de6c5"/><rect x="2.1" y="4.9" width="1" height="1" fill="#2ea57a"/><rect x="2.4" y="5.0" width="1" height="1" fill="#8de6c5"/><rect x="0.3" y="0.9" width="1" height="1" fill="#2ea57a"/><rect x="7.8" y="4.6" width="1" height="1" fill="#8de6c5"/><rect x="5.6" y="8.1" width="1" height="1" fill="#2ea57a"/><rect x="3.9" y="0.6" width="1" height="1" fill="#8de6c5"/><rect x="8.6" y="6.5" width="1" height="1" fill="#2ea57a"/><rect x="7.2" y="6.8" width="1" height="1" fill="#8de6c5"/><rect x="10.7" y="4.0" width="1" height="1" fill="#2ea57a"/><rect x="8.4" y="4.1" width="1" height="1" fill="#8de6c5"/><rect x="6.3" y="7.3" width="1" height="1" fill="#2ea57a"/><rect x="3.5" y="0.9" width="1" height="1" fill="#8de6c5"/><rect x="5.2" y="7.9" width="1" height="1" fill="#2ea57a"/><rect x="6.5" y="4.9" width="1" height="1" fill="#8de6c5"/><rect x="7.1" y="2.0" width="1" height="1" fill="#2ea57a"/><rect x="2.0" y="3.6" width="1" height="1" fill="#8de6c5"/><rect x="9.0" y="2.2" width="1" height="1" fill="#2ea57a"/><rect x="1.3" y="1.1" width="1" height="1" fill="#8de6c5"/><rect x="0.4" y="3.0" width="1" height="1" fill="#2ea57a"/><rect x="6.3" y="9.0" width="1" height="1" fill="#8de6c5"/><rect x="3.6" y="4.1" width="1" height="1" fill="#2ea57a"/><rect x="3.2" y="3.4" width="1" height="1" fill="#8de6c5"/><rect x="8.6" y="6.0" width="1" height="1" fill="#2ea57a"/><rect x="2.8" y="1.2" width="1" height="1" fill="#8de6c5"/><rect x="8.6" y="7.8" width="1" height="1" fill="#2ea57a"/><rect x="9.1" y="2.6" width="1" height="1" fill="#8de6c5"/><rect x="6.0" y="10.1" width="1" height="1" fill="#2ea57a"/><rect x="6.5" y="10.4" width="1" height="1" fill="#8de6c5"/><rect x="1.8" y="10.7" width="1" height="1" fill="#2ea57a"/><rect x="0.6" y="4.6" width="1" height="1" fill="#8de6c5"/><rect x="0.3" y="8.9" width="1" height="1" fill="#2ea57a"/><rect x="7.6" y="10.7" width="1" height="1" fill="#8de6c5"/><rect x="8.9" y="10.4" width="1" height="1" fill="#2ea57a"/><rect x="5.9" y="10.9" width="1" height="1" fill="#8de6c5"/><rect x="8.2" y="3.8" width="1" height="1" fill="#2ea57a"/><rect x="10.7" y="4.1" width="1" height="1" fill="#8de6c5"/><rect x="2.1" y="0.8" width="1" height="1" fill="#2ea57a"/><rect x="5.1" y="2.2" width="1" height="1" fill="#8de6c5"/><rect x="10.3" y="10.5" width="1" height="1" fill="#2ea57a"/><rect x="2.4" y="1.1" width="1" height="1" fill="#8de6c5"/><rect x="5.8" y="1.9" width="1" height="1" fill="#2ea57a"/><rect x="6.0" y="8.9" width="1" height="1" fill="#8de6c5"/></pattern><pattern id="spo" width="12" height="12" patternUnits="userSpaceOnUse"><rect width="12" height="12" fill="#f6b967"/><rect x="7.5" y="1.0" width="1" height="1" fill="#e99d46"/><rect x="6.8" y="9.3" width="1" height="1" fill="#fdd69c"/><rect x="9.2" y="5.7" width="1" height="1" fill="#e99d46"/><rect x="6.9" y="4.1" width="1" height="1" fill="#fdd69c"/><rect x="5.8" y="1.2" width="1" height="1" fill="#e99d46"/><rect x="7.5" y="6.6" width="1" height="1" fill="#fdd69c"/><rect x="3.1" y="4.2" width="1" height="1" fill="#e99d46"/><rect x="8.1" y="4.9" width="1" height="1" fill="#fdd69c"/><rect x="10.6" y="10.7" width="1" height="1" fill="#e99d46"/><rect x="9.2" y="1.0" width="1" height="1" fill="#fdd69c"/><rect x="0.8" y="3.2" width="1" height="1" fill="#e99d46"/><rect x="4.0" y="7.8" width="1" height="1" fill="#fdd69c"/><rect x="9.1" y="6.2" width="1" height="1" fill="#e99d46"/><rect x="7.0" y="6.3" width="1" height="1" fill="#fdd69c"/><rect x="0.4" y="5.8" width="1" height="1" fill="#e99d46"/><rect x="2.3" y="4.6" width="1" height="1" fill="#fdd69c"/><rect x="0.1" y="7.2" width="1" height="1" fill="#e99d46"/><rect x="10.0" y="0.8" width="1" height="1" fill="#fdd69c"/><rect x="6.4" y="0.3" width="1" height="1" fill="#e99d46"/><rect x="3.9" y="1.8" width="1" height="1" fill="#fdd69c"/><rect x="9.5" y="8.0" width="1" height="1" fill="#e99d46"/><rect x="9.9" y="2.4" width="1" height="1" fill="#fdd69c"/><rect x="7.9" y="7.7" width="1" height="1" fill="#e99d46"/><rect x="5.6" y="10.1" width="1" height="1" fill="#fdd69c"/><rect x="6.9" y="3.1" width="1" height="1" fill="#e99d46"/><rect x="7.9" y="5.3" width="1" height="1" fill="#fdd69c"/><rect x="2.3" y="6.8" width="1" height="1" fill="#e99d46"/><rect x="0.5" y="4.9" width="1" height="1" fill="#fdd69c"/><rect x="6.1" y="0.0" width="1" height="1" fill="#e99d46"/><rect x="7.1" y="1.0" width="1" height="1" fill="#fdd69c"/><rect x="7.1" y="3.8" width="1" height="1" fill="#e99d46"/><rect x="0.3" y="11.0" width="1" height="1" fill="#fdd69c"/><rect x="0.7" y="1.7" width="1" height="1" fill="#e99d46"/><rect x="5.6" y="2.7" width="1" height="1" fill="#fdd69c"/><rect x="5.8" y="5.2" width="1" height="1" fill="#e99d46"/><rect x="6.3" y="6.0" width="1" height="1" fill="#fdd69c"/><rect x="3.2" y="2.3" width="1" height="1" fill="#e99d46"/><rect x="7.6" y="4.7" width="1" height="1" fill="#fdd69c"/><rect x="5.7" y="10.1" width="1" height="1" fill="#e99d46"/><rect x="0.1" y="3.1" width="1" height="1" fill="#fdd69c"/><rect x="6.2" y="0.6" width="1" height="1" fill="#e99d46"/><rect x="8.3" y="4.4" width="1" height="1" fill="#fdd69c"/><rect x="3.5" y="2.1" width="1" height="1" fill="#e99d46"/><rect x="10.6" y="0.5" width="1" height="1" fill="#fdd69c"/><rect x="9.0" y="7.8" width="1" height="1" fill="#e99d46"/><rect x="9.9" y="7.7" width="1" height="1" fill="#fdd69c"/></pattern></defs>
<text x="0.5" y="198.5" font-size="13.5" text-anchor="start" fill="#000" font-weight="bold"  stroke="#000" stroke-width="0.15">D</text>
<path d="M46.8 219.68 L46.83 221.09 L46.87 223.09 L46.91 225.42 L46.96 227.79 L47 229.94 L47.01 231.84 L46.98 233.66 L46.98 235.46 L47.03 237.28 L47.2 239.17 L47.52 241.11 L47.96 243.06 L48.45 245.06 L48.95 247.17 L49.4 249.43 L49.8 252.01 L50.21 254.88 L50.59 257.78 L50.92 260.49 L51.2 262.77 L51.4 264.52 L51.53 265.9 L51.62 267.05 L51.7 268.12 L51.8 269.27 L51.92 270.47 L52.05 271.61 L52.17 272.74 L52.29 273.89 L52.4 275.08 L52.45 276.34 L52.44 277.63 L52.44 278.95 L52.54 280.27 L52.8 281.58 L53.28 282.88 L53.93 284.18 L54.66 285.48 L55.41 286.78 L56.1 288.08 L56.75 289.37 L57.4 290.66 L58.04 291.95 L58.61 293.26 L59.1 294.58 L59.51 295.93 L59.87 297.31 L60.15 298.69 L60.33 300.07 L60.4 301.42 L60.35 302.74 L60.2 304.04 L59.94 305.33 L59.57 306.62 L59.1 307.92 L58.49 309.22 L57.74 310.52 L56.89 311.81 L56 313.11 L55.1 314.41 L54.14 315.71 L53.08 317 L52.02 318.29 L51.03 319.59 L50.2 320.91 L49.55 322.26 L49.02 323.64 L48.58 325.02 L48.22 326.4 L47.9 327.75 L47.65 329.07 L47.5 330.38 L47.39 331.67 L47.3 332.96 L47.2 334.25 L47.08 335.62 L46.98 337.06 L46.88 338.47 L46.78 339.73 L46.7 340.75 L46.62 341.48 L46.55 341.99 L46.49 342.34 L46.44 342.59 L46.4 342.8 L45.6 342.8 L45.56 342.59 L45.51 342.34 L45.45 341.99 L45.38 341.48 L45.3 340.75 L45.22 339.73 L45.12 338.47 L45.02 337.06 L44.92 335.62 L44.8 334.25 L44.7 332.96 L44.61 331.67 L44.5 330.38 L44.35 329.07 L44.1 327.75 L43.78 326.4 L43.42 325.02 L42.98 323.64 L42.45 322.26 L41.8 320.91 L40.97 319.59 L39.98 318.29 L38.92 317 L37.86 315.71 L36.9 314.41 L36 313.11 L35.11 311.81 L34.26 310.52 L33.51 309.22 L32.9 307.92 L32.43 306.62 L32.06 305.33 L31.8 304.04 L31.65 302.74 L31.6 301.42 L31.67 300.07 L31.85 298.69 L32.13 297.31 L32.49 295.93 L32.9 294.58 L33.39 293.26 L33.96 291.95 L34.6 290.66 L35.25 289.37 L35.9 288.08 L36.59 286.78 L37.34 285.48 L38.07 284.18 L38.72 282.88 L39.2 281.58 L39.46 280.27 L39.56 278.95 L39.56 277.63 L39.55 276.34 L39.6 275.08 L39.71 273.89 L39.83 272.74 L39.95 271.61 L40.08 270.47 L40.2 269.27 L40.3 268.12 L40.38 267.05 L40.47 265.9 L40.6 264.52 L40.8 262.77 L41.08 260.49 L41.41 257.78 L41.79 254.88 L42.2 252.01 L42.6 249.43 L43.05 247.17 L43.55 245.06 L44.04 243.06 L44.48 241.11 L44.8 239.17 L44.97 237.28 L45.02 235.46 L45.02 233.66 L44.99 231.84 L45 229.94 L45.04 227.79 L45.09 225.42 L45.13 223.09 L45.17 221.09 L45.2 219.68Z" fill="url(#spb)" stroke="#4a4a4a" stroke-width="0.5"/>
<line x1="46" y1="219.68" x2="46" y2="342.8" stroke="#222" stroke-width="0.6" />
<rect x="44.6" y="269.27" width="2.8" height="37.28" fill="#000"/>
<circle cx="46" cy="294.24" r="1.45" fill="#fff"/>
<path d="M97.1 209.42 L97.11 210.56 L97.11 212.14 L97.13 214.03 L97.19 216.13 L97.3 218.31 L97.48 220.64 L97.7 223.2 L97.97 225.89 L98.27 228.62 L98.6 231.31 L98.98 234.06 L99.42 236.95 L99.88 239.79 L100.32 242.41 L100.7 244.65 L101 246.38 L101.24 247.74 L101.47 248.87 L101.71 249.95 L102 251.14 L102.35 252.44 L102.72 253.74 L103.12 255.04 L103.55 256.34 L104 257.64 L104.49 258.94 L105.03 260.22 L105.57 261.52 L106.11 262.82 L106.6 264.14 L107.05 265.54 L107.48 267 L107.89 268.45 L108.26 269.8 L108.6 270.98 L108.91 271.88 L109.19 272.56 L109.44 273.16 L109.64 273.84 L109.8 274.74 L109.9 275.92 L109.95 277.27 L109.96 278.72 L109.94 280.19 L109.9 281.58 L109.8 282.9 L109.63 284.21 L109.45 285.5 L109.32 286.79 L109.3 288.08 L109.42 289.37 L109.64 290.66 L109.91 291.95 L110.18 293.26 L110.4 294.58 L110.56 295.93 L110.7 297.31 L110.83 298.69 L110.93 300.07 L111 301.42 L111.07 302.74 L111.12 304.04 L111.15 305.33 L111.12 306.62 L111 307.92 L110.81 309.22 L110.55 310.52 L110.23 311.81 L109.81 313.11 L109.3 314.41 L108.65 315.71 L107.88 317 L107.03 318.29 L106.16 319.59 L105.3 320.91 L104.44 322.26 L103.55 323.64 L102.66 325.02 L101.79 326.4 L101 327.75 L100.25 329.07 L99.53 330.38 L98.86 331.67 L98.28 332.96 L97.8 334.25 L97.46 335.63 L97.24 337.1 L97.09 338.52 L96.99 339.78 L96.9 340.75 L96.83 341.37 L96.8 341.73 L96.79 341.91 L96.8 342.01 L96.8 342.12 L96.2 342.12 L96.2 342.01 L96.21 341.91 L96.2 341.73 L96.17 341.37 L96.1 340.75 L96.01 339.78 L95.91 338.52 L95.76 337.1 L95.54 335.63 L95.2 334.25 L94.72 332.96 L94.14 331.67 L93.47 330.38 L92.75 329.07 L92 327.75 L91.21 326.4 L90.34 325.02 L89.45 323.64 L88.56 322.26 L87.7 320.91 L86.84 319.59 L85.97 318.29 L85.12 317 L84.35 315.71 L83.7 314.41 L83.19 313.11 L82.77 311.81 L82.45 310.52 L82.19 309.22 L82 307.92 L81.88 306.62 L81.85 305.33 L81.88 304.04 L81.93 302.74 L82 301.42 L82.07 300.07 L82.17 298.69 L82.3 297.31 L82.44 295.93 L82.6 294.58 L82.82 293.26 L83.09 291.95 L83.36 290.66 L83.58 289.37 L83.7 288.08 L83.68 286.79 L83.55 285.5 L83.37 284.21 L83.2 282.9 L83.1 281.58 L83.06 280.19 L83.04 278.72 L83.05 277.27 L83.1 275.92 L83.2 274.74 L83.36 273.84 L83.56 273.16 L83.81 272.56 L84.09 271.88 L84.4 270.98 L84.74 269.8 L85.11 268.45 L85.52 267 L85.95 265.54 L86.4 264.14 L86.89 262.82 L87.43 261.52 L87.97 260.22 L88.51 258.94 L89 257.64 L89.45 256.34 L89.88 255.04 L90.28 253.74 L90.65 252.44 L91 251.14 L91.29 249.95 L91.53 248.87 L91.76 247.74 L92 246.38 L92.3 244.65 L92.68 242.41 L93.12 239.79 L93.58 236.95 L94.02 234.06 L94.4 231.31 L94.73 228.62 L95.03 225.89 L95.3 223.2 L95.52 220.64 L95.7 218.31 L95.81 216.13 L95.87 214.03 L95.89 212.14 L95.89 210.56 L95.9 209.42Z" fill="url(#spg)" stroke="#4a4a4a" stroke-width="0.5"/>
<line x1="96.5" y1="209.42" x2="96.5" y2="342.12" stroke="#222" stroke-width="0.6" />
<rect x="95.1" y="266.88" width="2.8" height="40.36" fill="#000"/>
<circle cx="96.5" cy="286.71" r="1.45" fill="#fff"/>
<path d="M147.6 240.2 L147.64 240.82 L147.69 241.64 L147.75 242.66 L147.82 243.89 L147.9 245.33 L147.99 247.05 L148.09 249.06 L148.19 251.24 L148.3 253.46 L148.4 255.59 L148.5 257.64 L148.6 259.68 L148.69 261.72 L148.79 263.78 L148.9 265.85 L149.01 267.99 L149.13 270.18 L149.25 272.37 L149.37 274.48 L149.5 276.45 L149.63 278.29 L149.75 280.02 L149.88 281.66 L150.03 283.21 L150.2 284.66 L150.38 285.98 L150.57 287.16 L150.78 288.26 L151.05 289.35 L151.4 290.47 L151.83 291.64 L152.32 292.82 L152.88 293.99 L153.51 295.15 L154.2 296.29 L155.03 297.4 L155.98 298.49 L156.98 299.56 L157.91 300.65 L158.7 301.76 L159.33 302.91 L159.86 304.08 L160.32 305.26 L160.69 306.43 L161 307.57 L161.25 308.68 L161.44 309.77 L161.54 310.85 L161.57 311.94 L161.5 313.05 L161.35 314.19 L161.11 315.36 L160.79 316.54 L160.35 317.71 L159.8 318.86 L159.07 319.97 L158.17 321.06 L157.19 322.13 L156.21 323.22 L155.3 324.33 L154.45 325.48 L153.59 326.65 L152.77 327.83 L152.03 329 L151.4 330.15 L150.9 331.26 L150.51 332.34 L150.2 333.42 L149.94 334.51 L149.7 335.62 L149.49 336.83 L149.33 338.13 L149.21 339.41 L149.1 340.55 L149 341.43 L148.89 342.01 L148.8 342.36 L148.72 342.56 L148.65 342.69 L148.6 342.8 L145.4 342.8 L145.35 342.69 L145.28 342.56 L145.2 342.36 L145.11 342.01 L145 341.43 L144.9 340.55 L144.79 339.41 L144.67 338.13 L144.51 336.83 L144.3 335.62 L144.06 334.51 L143.8 333.42 L143.49 332.34 L143.1 331.26 L142.6 330.15 L141.97 329 L141.23 327.83 L140.41 326.65 L139.55 325.48 L138.7 324.33 L137.79 323.22 L136.81 322.13 L135.83 321.06 L134.93 319.97 L134.2 318.86 L133.65 317.71 L133.21 316.54 L132.89 315.36 L132.65 314.19 L132.5 313.05 L132.43 311.94 L132.46 310.85 L132.56 309.77 L132.75 308.68 L133 307.57 L133.31 306.43 L133.68 305.26 L134.14 304.08 L134.67 302.91 L135.3 301.76 L136.09 300.65 L137.02 299.56 L138.02 298.49 L138.97 297.4 L139.8 296.29 L140.49 295.15 L141.12 293.99 L141.68 292.82 L142.17 291.64 L142.6 290.47 L142.95 289.35 L143.22 288.26 L143.43 287.16 L143.62 285.98 L143.8 284.66 L143.97 283.21 L144.12 281.66 L144.25 280.02 L144.37 278.29 L144.5 276.45 L144.63 274.48 L144.75 272.37 L144.87 270.18 L144.99 267.99 L145.1 265.85 L145.21 263.78 L145.31 261.72 L145.4 259.68 L145.5 257.64 L145.6 255.59 L145.7 253.46 L145.81 251.24 L145.91 249.06 L146.01 247.05 L146.1 245.33 L146.18 243.89 L146.25 242.66 L146.31 241.64 L146.36 240.82 L146.4 240.2Z" fill="url(#spo)" stroke="#4a4a4a" stroke-width="0.5"/>
<line x1="147" y1="240.2" x2="147" y2="342.8" stroke="#222" stroke-width="0.6" />
<rect x="145.6" y="285.69" width="2.8" height="33.17" fill="#000"/>
<circle cx="147" cy="307.57" r="1.45" fill="#fff"/>
<line x1="27.7" y1="206" x2="27.7" y2="343.4" stroke="#333" stroke-width="1.3" />
<line x1="25.7" y1="342.8" x2="27.7" y2="342.8" stroke="#333" stroke-width="1.2" />
<text x="22.3" y="346.1" font-size="9.5" text-anchor="end" fill="#222"  stroke="#222" stroke-width="0.15">0</text>
<line x1="25.7" y1="308.6" x2="27.7" y2="308.6" stroke="#333" stroke-width="1.2" />
<text x="22.3" y="311.9" font-size="9.5" text-anchor="end" fill="#222"  stroke="#222" stroke-width="0.15">1</text>
<line x1="25.7" y1="274.4" x2="27.7" y2="274.4" stroke="#333" stroke-width="1.2" />
<text x="22.3" y="277.7" font-size="9.5" text-anchor="end" fill="#222"  stroke="#222" stroke-width="0.15">2</text>
<line x1="25.7" y1="240.2" x2="27.7" y2="240.2" stroke="#333" stroke-width="1.2" />
<text x="22.3" y="243.5" font-size="9.5" text-anchor="end" fill="#222"  stroke="#222" stroke-width="0.15">3</text>
<line x1="25.7" y1="206" x2="27.7" y2="206" stroke="#333" stroke-width="1.2" />
<text x="22.3" y="209.3" font-size="9.5" text-anchor="end" fill="#222"  stroke="#222" stroke-width="0.15">4</text>
<line x1="30.3" y1="346.1" x2="163.1" y2="346.1" stroke="#333" stroke-width="1.3" />
<line x1="30.3" y1="345.5" x2="30.3" y2="347.7" stroke="#333" stroke-width="1.1" />
<line x1="162.6" y1="345.5" x2="162.6" y2="347.7" stroke="#333" stroke-width="1.1" />
<line x1="46" y1="346.1" x2="46" y2="348.3" stroke="#333" stroke-width="1.2" />
<text x="46" y="360" font-size="9.7" text-anchor="middle" fill="#222"  stroke="#222" stroke-width="0.15">CTRL</text>
<line x1="96.5" y1="346.1" x2="96.5" y2="348.3" stroke="#333" stroke-width="1.2" />
<text x="96.5" y="360" font-size="9.7" text-anchor="middle" fill="#222"  stroke="#222" stroke-width="0.15">αCTLA4</text>
<line x1="147" y1="346.1" x2="147" y2="348.3" stroke="#333" stroke-width="1.2" />
<text x="147" y="360" font-size="9.7" text-anchor="middle" fill="#222"  stroke="#222" stroke-width="0.15">αPDL1</text>
<text x="11.3" y="282.5" font-size="10" text-anchor="middle" fill="#222" transform="rotate(-90 11.3 282.5)"  stroke="#222" stroke-width="0.15">Lipid scores (a.u.)</text>
<text x="171.5" y="198.5" font-size="13.5" text-anchor="start" fill="#000" font-weight="bold"  stroke="#000" stroke-width="0.15">E</text>
<path d="M220.8 208.66 L220.75 209.95 L220.66 211.75 L220.57 213.88 L220.54 216.19 L220.6 218.52 L220.76 220.9 L221 223.45 L221.29 226.1 L221.63 228.79 L222 231.44 L222.43 234.18 L222.93 237.05 L223.46 239.87 L223.96 242.48 L224.4 244.7 L224.75 246.42 L225.05 247.76 L225.31 248.88 L225.59 249.96 L225.9 251.16 L226.25 252.5 L226.62 253.87 L227 255.25 L227.39 256.62 L227.8 257.96 L228.22 259.27 L228.67 260.57 L229.12 261.85 L229.57 263.13 L230 264.42 L230.41 265.73 L230.82 267.07 L231.22 268.39 L231.61 269.68 L232 270.88 L232.42 271.97 L232.86 272.97 L233.28 273.93 L233.64 274.92 L233.9 275.98 L234.03 277.12 L234.07 278.31 L234.04 279.53 L233.98 280.79 L233.9 282.1 L233.82 283.46 L233.72 284.88 L233.59 286.34 L233.42 287.8 L233.2 289.24 L232.94 290.67 L232.64 292.11 L232.31 293.55 L231.93 294.97 L231.5 296.38 L231.01 297.76 L230.46 299.11 L229.88 300.45 L229.28 301.8 L228.7 303.18 L228.12 304.59 L227.52 306.01 L226.93 307.45 L226.35 308.89 L225.8 310.32 L225.27 311.75 L224.76 313.19 L224.26 314.63 L223.81 316.05 L223.4 317.46 L223.04 318.84 L222.73 320.19 L222.46 321.53 L222.22 322.88 L222 324.26 L221.81 325.67 L221.66 327.09 L221.54 328.53 L221.42 329.97 L221.3 331.4 L221.17 332.89 L221.04 334.44 L220.91 335.95 L220.8 337.35 L220.7 338.54 L220.62 339.51 L220.54 340.33 L220.48 341 L220.44 341.54 L220.4 341.94 L218 341.94 L217.96 341.54 L217.92 341 L217.86 340.33 L217.78 339.51 L217.7 338.54 L217.6 337.35 L217.49 335.95 L217.36 334.44 L217.23 332.89 L217.1 331.4 L216.98 329.97 L216.86 328.53 L216.74 327.09 L216.59 325.67 L216.4 324.26 L216.18 322.88 L215.94 321.53 L215.67 320.19 L215.36 318.84 L215 317.46 L214.59 316.05 L214.14 314.63 L213.64 313.19 L213.13 311.75 L212.6 310.32 L212.05 308.89 L211.47 307.45 L210.88 306.01 L210.28 304.59 L209.7 303.18 L209.12 301.8 L208.52 300.45 L207.94 299.11 L207.39 297.76 L206.9 296.38 L206.47 294.97 L206.09 293.55 L205.76 292.11 L205.46 290.67 L205.2 289.24 L204.98 287.8 L204.81 286.34 L204.68 284.88 L204.58 283.46 L204.5 282.1 L204.42 280.79 L204.36 279.53 L204.33 278.31 L204.37 277.12 L204.5 275.98 L204.76 274.92 L205.12 273.93 L205.54 272.97 L205.98 271.97 L206.4 270.88 L206.79 269.68 L207.18 268.39 L207.58 267.07 L207.99 265.73 L208.4 264.42 L208.83 263.13 L209.28 261.85 L209.73 260.57 L210.18 259.27 L210.6 257.96 L211.01 256.62 L211.4 255.25 L211.78 253.87 L212.15 252.5 L212.5 251.16 L212.81 249.96 L213.09 248.88 L213.35 247.76 L213.65 246.42 L214 244.7 L214.44 242.48 L214.94 239.87 L215.47 237.05 L215.97 234.18 L216.4 231.44 L216.77 228.79 L217.11 226.1 L217.4 223.45 L217.64 220.9 L217.8 218.52 L217.86 216.19 L217.83 213.88 L217.74 211.75 L217.65 209.95 L217.6 208.66Z" fill="url(#spb)" stroke="#4a4a4a" stroke-width="0.5"/>
<line x1="219.2" y1="208.66" x2="219.2" y2="341.94" stroke="#222" stroke-width="0.6" />
<rect x="217.8" y="258.98" width="2.8" height="36.38" fill="#000"/>
<circle cx="219.2" cy="279.04" r="1.45" fill="#fff"/>
<path d="M270.5 208.66 L270.46 209.07 L270.41 209.63 L270.35 210.32 L270.31 211.13 L270.3 212.06 L270.32 213.05 L270.35 214.11 L270.41 215.32 L270.49 216.77 L270.6 218.52 L270.74 220.69 L270.92 223.21 L271.12 225.94 L271.34 228.73 L271.6 231.44 L271.9 234.18 L272.26 237.05 L272.63 239.87 L272.99 242.48 L273.3 244.7 L273.55 246.42 L273.76 247.76 L273.96 248.88 L274.16 249.96 L274.4 251.16 L274.67 252.5 L274.95 253.87 L275.25 255.25 L275.57 256.62 L275.9 257.96 L276.26 259.27 L276.65 260.57 L277.04 261.85 L277.43 263.13 L277.8 264.42 L278.15 265.73 L278.48 267.07 L278.8 268.39 L279.11 269.68 L279.4 270.88 L279.65 271.97 L279.86 272.97 L280.06 273.93 L280.3 274.92 L280.6 275.98 L281.01 277.12 L281.49 278.31 L282.01 279.53 L282.49 280.79 L282.9 282.1 L283.23 283.46 L283.52 284.88 L283.76 286.34 L283.95 287.8 L284.1 289.24 L284.21 290.67 L284.29 292.11 L284.31 293.55 L284.25 294.97 L284.1 296.38 L283.83 297.76 L283.46 299.11 L283.01 300.45 L282.52 301.8 L282 303.18 L281.46 304.59 L280.89 306.01 L280.27 307.45 L279.61 308.89 L278.9 310.32 L278.08 311.75 L277.16 313.19 L276.22 314.63 L275.34 316.05 L274.6 317.46 L274.02 318.84 L273.56 320.19 L273.17 321.53 L272.83 322.88 L272.5 324.26 L272.19 325.67 L271.93 327.09 L271.7 328.53 L271.49 329.97 L271.3 331.4 L271.12 332.89 L270.97 334.44 L270.83 335.95 L270.71 337.35 L270.6 338.54 L270.49 339.51 L270.4 340.33 L270.32 341 L270.25 341.54 L270.2 341.94 L268.6 341.94 L268.55 341.54 L268.48 341 L268.4 340.33 L268.31 339.51 L268.2 338.54 L268.09 337.35 L267.97 335.95 L267.83 334.44 L267.68 332.89 L267.5 331.4 L267.31 329.97 L267.1 328.53 L266.87 327.09 L266.61 325.67 L266.3 324.26 L265.97 322.88 L265.63 321.53 L265.24 320.19 L264.78 318.84 L264.2 317.46 L263.46 316.05 L262.58 314.63 L261.64 313.19 L260.72 311.75 L259.9 310.32 L259.19 308.89 L258.53 307.45 L257.91 306.01 L257.34 304.59 L256.8 303.18 L256.28 301.8 L255.79 300.45 L255.34 299.11 L254.97 297.76 L254.7 296.38 L254.55 294.97 L254.49 293.55 L254.51 292.11 L254.59 290.67 L254.7 289.24 L254.85 287.8 L255.04 286.34 L255.28 284.88 L255.57 283.46 L255.9 282.1 L256.31 280.79 L256.79 279.53 L257.31 278.31 L257.79 277.12 L258.2 275.98 L258.5 274.92 L258.74 273.93 L258.94 272.97 L259.15 271.97 L259.4 270.88 L259.69 269.68 L260 268.39 L260.32 267.07 L260.65 265.73 L261 264.42 L261.37 263.13 L261.76 261.85 L262.15 260.57 L262.54 259.27 L262.9 257.96 L263.23 256.62 L263.55 255.25 L263.85 253.87 L264.13 252.5 L264.4 251.16 L264.64 249.96 L264.84 248.88 L265.04 247.76 L265.25 246.42 L265.5 244.7 L265.81 242.48 L266.17 239.87 L266.54 237.05 L266.9 234.18 L267.2 231.44 L267.46 228.73 L267.68 225.94 L267.88 223.21 L268.06 220.69 L268.2 218.52 L268.31 216.77 L268.39 215.32 L268.45 214.11 L268.48 213.05 L268.5 212.06 L268.49 211.13 L268.45 210.32 L268.39 209.63 L268.34 209.07 L268.3 208.66Z" fill="url(#spg)" stroke="#4a4a4a" stroke-width="0.5"/>
<line x1="269.4" y1="208.66" x2="269.4" y2="341.94" stroke="#222" stroke-width="0.6" />
<rect x="268" y="263.06" width="2.8" height="38.76" fill="#000"/>
<circle cx="269.4" cy="285.16" r="1.45" fill="#fff"/>
<path d="M320.4 224.64 L320.4 225.49 L320.38 226.66 L320.38 228.08 L320.41 229.69 L320.5 231.44 L320.65 233.4 L320.84 235.61 L321.07 237.96 L321.33 240.35 L321.6 242.66 L321.9 244.9 L322.22 247.13 L322.57 249.37 L322.93 251.61 L323.3 253.88 L323.68 256.18 L324.08 258.51 L324.49 260.85 L324.9 263.17 L325.3 265.44 L325.71 267.74 L326.14 270.09 L326.56 272.37 L326.96 274.48 L327.3 276.32 L327.55 277.78 L327.72 278.93 L327.88 279.93 L328.09 280.94 L328.4 282.1 L328.86 283.44 L329.43 284.86 L330.05 286.32 L330.66 287.79 L331.2 289.24 L331.68 290.67 L332.14 292.11 L332.57 293.55 L332.96 294.97 L333.3 296.38 L333.6 297.76 L333.88 299.11 L334.1 300.45 L334.25 301.8 L334.3 303.18 L334.26 304.59 L334.15 306.01 L333.95 307.45 L333.67 308.89 L333.3 310.32 L332.83 311.75 L332.28 313.19 L331.64 314.63 L330.91 316.05 L330.1 317.46 L329.14 318.84 L328.04 320.19 L326.88 321.53 L325.77 322.88 L324.8 324.26 L323.98 325.69 L323.24 327.16 L322.57 328.63 L321.99 330.05 L321.5 331.4 L321.11 332.72 L320.83 334.05 L320.61 335.3 L320.45 336.37 L320.3 337.18 L320.18 337.65 L320.1 337.85 L320.06 337.88 L320.03 337.85 L320 337.86 L319.2 337.86 L319.17 337.85 L319.14 337.88 L319.1 337.85 L319.02 337.65 L318.9 337.18 L318.75 336.37 L318.59 335.3 L318.37 334.05 L318.09 332.72 L317.7 331.4 L317.21 330.05 L316.63 328.63 L315.96 327.16 L315.22 325.69 L314.4 324.26 L313.43 322.88 L312.32 321.53 L311.16 320.19 L310.06 318.84 L309.1 317.46 L308.29 316.05 L307.56 314.63 L306.92 313.19 L306.37 311.75 L305.9 310.32 L305.53 308.89 L305.25 307.45 L305.05 306.01 L304.94 304.59 L304.9 303.18 L304.95 301.8 L305.1 300.45 L305.32 299.11 L305.6 297.76 L305.9 296.38 L306.24 294.97 L306.63 293.55 L307.06 292.11 L307.52 290.67 L308 289.24 L308.54 287.79 L309.15 286.32 L309.77 284.86 L310.34 283.44 L310.8 282.1 L311.11 280.94 L311.32 279.93 L311.48 278.93 L311.65 277.78 L311.9 276.32 L312.24 274.48 L312.64 272.37 L313.06 270.09 L313.49 267.74 L313.9 265.44 L314.3 263.17 L314.71 260.85 L315.12 258.51 L315.52 256.18 L315.9 253.88 L316.27 251.61 L316.63 249.37 L316.98 247.13 L317.3 244.9 L317.6 242.66 L317.87 240.35 L318.13 237.96 L318.36 235.61 L318.55 233.4 L318.7 231.44 L318.79 229.69 L318.82 228.08 L318.82 226.66 L318.8 225.49 L318.8 224.64Z" fill="url(#spo)" stroke="#4a4a4a" stroke-width="0.5"/>
<line x1="319.6" y1="224.64" x2="319.6" y2="337.86" stroke="#222" stroke-width="0.6" />
<rect x="318.2" y="273.6" width="2.8" height="36.04" fill="#000"/>
<circle cx="319.6" cy="296.72" r="1.45" fill="#fff"/>
<line x1="201.4" y1="205.5" x2="201.4" y2="343.9" stroke="#333" stroke-width="1.3" />
<line x1="199.4" y1="343.3" x2="201.4" y2="343.3" stroke="#333" stroke-width="1.2" />
<text x="196" y="346.6" font-size="9.5" text-anchor="end" fill="#222"  stroke="#222" stroke-width="0.15">0</text>
<line x1="199.4" y1="309.3" x2="201.4" y2="309.3" stroke="#333" stroke-width="1.2" />
<text x="196" y="312.6" font-size="9.5" text-anchor="end" fill="#222"  stroke="#222" stroke-width="0.15">1</text>
<line x1="199.4" y1="275.3" x2="201.4" y2="275.3" stroke="#333" stroke-width="1.2" />
<text x="196" y="278.6" font-size="9.5" text-anchor="end" fill="#222"  stroke="#222" stroke-width="0.15">2</text>
<line x1="199.4" y1="241.3" x2="201.4" y2="241.3" stroke="#333" stroke-width="1.2" />
<text x="196" y="244.6" font-size="9.5" text-anchor="end" fill="#222"  stroke="#222" stroke-width="0.15">3</text>
<line x1="199.4" y1="207.3" x2="201.4" y2="207.3" stroke="#333" stroke-width="1.2" />
<text x="196" y="210.6" font-size="9.5" text-anchor="end" fill="#222"  stroke="#222" stroke-width="0.15">4</text>
<line x1="204" y1="346.1" x2="336.5" y2="346.1" stroke="#333" stroke-width="1.3" />
<line x1="204" y1="345.5" x2="204" y2="347.7" stroke="#333" stroke-width="1.1" />
<line x1="336" y1="345.5" x2="336" y2="347.7" stroke="#333" stroke-width="1.1" />
<line x1="219.2" y1="346.1" x2="219.2" y2="348.3" stroke="#333" stroke-width="1.2" />
<text x="219.2" y="360" font-size="9.7" text-anchor="middle" fill="#222"  stroke="#222" stroke-width="0.15">CTRL</text>
<line x1="269.4" y1="346.1" x2="269.4" y2="348.3" stroke="#333" stroke-width="1.2" />
<text x="269.4" y="360" font-size="9.7" text-anchor="middle" fill="#222"  stroke="#222" stroke-width="0.15">αCTLA4</text>
<line x1="319.6" y1="346.1" x2="319.6" y2="348.3" stroke="#333" stroke-width="1.2" />
<text x="319.6" y="360" font-size="9.7" text-anchor="middle" fill="#222"  stroke="#222" stroke-width="0.15">αPDL1</text>
<text x="183.7" y="277.4" font-size="10" text-anchor="middle" fill="#222" transform="rotate(-90 183.7 277.4)"  stroke="#222" stroke-width="0.15">Nucleic acid scores (a.u.)</text>
<text x="342.5" y="198.5" font-size="13.5" text-anchor="start" fill="#000" font-weight="bold"  stroke="#000" stroke-width="0.15">F</text>
<path d="M392.4 207.7 L392.44 208.56 L392.47 209.78 L392.53 211.2 L392.64 212.7 L392.8 214.14 L393.04 215.52 L393.33 216.95 L393.67 218.4 L394.03 219.84 L394.4 221.26 L394.78 222.63 L395.18 223.98 L395.59 225.31 L396.03 226.66 L396.5 228.04 L397 229.44 L397.53 230.86 L398.08 232.29 L398.64 233.72 L399.2 235.15 L399.75 236.58 L400.31 238 L400.88 239.43 L401.44 240.85 L402 242.27 L402.58 243.7 L403.18 245.12 L403.77 246.54 L404.32 247.97 L404.8 249.39 L405.21 250.82 L405.58 252.26 L405.89 253.69 L406.14 255.11 L406.3 256.51 L406.38 257.89 L406.39 259.25 L406.33 260.6 L406.2 261.94 L406 263.29 L405.71 264.64 L405.34 265.97 L404.9 267.31 L404.45 268.67 L404 270.07 L403.55 271.52 L403.07 273.01 L402.59 274.51 L402.13 276.03 L401.7 277.53 L401.32 279.02 L400.97 280.51 L400.64 282 L400.32 283.5 L400 284.99 L399.68 286.48 L399.38 287.97 L399.08 289.46 L398.78 290.95 L398.5 292.45 L398.22 293.93 L397.96 295.41 L397.7 296.9 L397.44 298.39 L397.2 299.9 L396.96 301.45 L396.74 303.01 L396.52 304.59 L396.3 306.16 L396.1 307.7 L395.91 309.21 L395.74 310.71 L395.57 312.19 L395.4 313.67 L395.2 315.16 L394.97 316.65 L394.72 318.14 L394.47 319.63 L394.22 321.12 L394 322.62 L393.81 324.11 L393.65 325.6 L393.49 327.09 L393.35 328.58 L393.2 330.07 L393.05 331.62 L392.89 333.22 L392.75 334.79 L392.61 336.26 L392.5 337.53 L392.41 338.63 L392.34 339.6 L392.28 340.43 L392.23 341.1 L392.2 341.6 L391.4 341.6 L391.37 341.1 L391.32 340.43 L391.26 339.6 L391.19 338.63 L391.1 337.53 L390.99 336.26 L390.85 334.79 L390.71 333.22 L390.55 331.62 L390.4 330.07 L390.25 328.58 L390.11 327.09 L389.95 325.6 L389.79 324.11 L389.6 322.62 L389.38 321.12 L389.13 319.63 L388.88 318.14 L388.63 316.65 L388.4 315.16 L388.2 313.67 L388.03 312.19 L387.86 310.71 L387.69 309.21 L387.5 307.7 L387.3 306.16 L387.08 304.59 L386.86 303.01 L386.64 301.45 L386.4 299.9 L386.16 298.39 L385.9 296.9 L385.64 295.41 L385.38 293.93 L385.1 292.45 L384.82 290.95 L384.52 289.46 L384.22 287.97 L383.92 286.48 L383.6 284.99 L383.28 283.5 L382.96 282 L382.63 280.51 L382.28 279.02 L381.9 277.53 L381.47 276.03 L381.01 274.51 L380.53 273.01 L380.05 271.52 L379.6 270.07 L379.15 268.67 L378.7 267.31 L378.26 265.97 L377.89 264.64 L377.6 263.29 L377.4 261.94 L377.27 260.6 L377.21 259.25 L377.22 257.89 L377.3 256.51 L377.46 255.11 L377.71 253.69 L378.02 252.26 L378.39 250.82 L378.8 249.39 L379.28 247.97 L379.83 246.54 L380.42 245.12 L381.02 243.7 L381.6 242.27 L382.16 240.85 L382.72 239.43 L383.29 238 L383.85 236.58 L384.4 235.15 L384.96 233.72 L385.52 232.29 L386.07 230.86 L386.6 229.44 L387.1 228.04 L387.57 226.66 L388.01 225.31 L388.42 223.98 L388.82 222.63 L389.2 221.26 L389.57 219.84 L389.93 218.4 L390.27 216.95 L390.56 215.52 L390.8 214.14 L390.96 212.7 L391.07 211.2 L391.13 209.78 L391.16 208.56 L391.2 207.7Z" fill="url(#spb)" stroke="#4a4a4a" stroke-width="0.5"/>
<line x1="391.8" y1="207.7" x2="391.8" y2="341.6" stroke="#222" stroke-width="0.6" />
<rect x="390.4" y="250.07" width="2.8" height="38.65" fill="#000"/>
<circle cx="391.8" cy="266" r="1.45" fill="#fff"/>
<path d="M443 220.24 L443.03 221.58 L443.06 223.5 L443.12 225.7 L443.22 227.87 L443.4 229.73 L443.66 231.21 L444 232.51 L444.38 233.72 L444.79 234.91 L445.2 236.17 L445.62 237.51 L446.07 238.87 L446.53 240.25 L447.01 241.61 L447.5 242.95 L448 244.26 L448.51 245.54 L449.04 246.81 L449.57 248.09 L450.1 249.39 L450.65 250.73 L451.22 252.1 L451.78 253.47 L452.32 254.83 L452.8 256.17 L453.23 257.48 L453.61 258.77 L453.96 260.05 L454.29 261.33 L454.6 262.61 L454.89 263.91 L455.16 265.21 L455.41 266.5 L455.65 267.79 L455.9 269.05 L456.19 270.29 L456.51 271.49 L456.8 272.68 L457.02 273.9 L457.1 275.16 L457.01 276.46 L456.8 277.8 L456.5 279.17 L456.15 280.55 L455.8 281.94 L455.43 283.34 L455.02 284.76 L454.58 286.19 L454.13 287.63 L453.7 289.06 L453.28 290.48 L452.86 291.9 L452.44 293.33 L452.02 294.75 L451.6 296.17 L451.18 297.6 L450.75 299.04 L450.32 300.47 L449.9 301.89 L449.5 303.29 L449.11 304.67 L448.74 306.01 L448.38 307.35 L448.03 308.7 L447.7 310.07 L447.39 311.48 L447.11 312.9 L446.84 314.33 L446.57 315.76 L446.3 317.19 L446.01 318.62 L445.72 320.04 L445.42 321.46 L445.15 322.89 L444.9 324.31 L444.69 325.73 L444.5 327.16 L444.33 328.58 L444.17 330.01 L444 331.43 L443.83 332.92 L443.65 334.49 L443.48 336.02 L443.33 337.41 L443.2 338.55 L443.1 339.42 L443.03 340.08 L442.97 340.58 L442.93 340.96 L442.9 341.26 L442.1 341.26 L442.07 340.96 L442.03 340.58 L441.97 340.08 L441.9 339.42 L441.8 338.55 L441.67 337.41 L441.52 336.02 L441.35 334.49 L441.17 332.92 L441 331.43 L440.83 330.01 L440.67 328.58 L440.5 327.16 L440.31 325.73 L440.1 324.31 L439.85 322.89 L439.58 321.46 L439.28 320.04 L438.99 318.62 L438.7 317.19 L438.43 315.76 L438.16 314.33 L437.89 312.9 L437.61 311.48 L437.3 310.07 L436.97 308.7 L436.62 307.35 L436.26 306.01 L435.89 304.67 L435.5 303.29 L435.1 301.89 L434.68 300.47 L434.25 299.04 L433.82 297.6 L433.4 296.17 L432.98 294.75 L432.56 293.33 L432.14 291.9 L431.72 290.48 L431.3 289.06 L430.87 287.63 L430.42 286.19 L429.98 284.76 L429.57 283.34 L429.2 281.94 L428.85 280.55 L428.5 279.17 L428.2 277.8 L427.99 276.46 L427.9 275.16 L427.98 273.9 L428.2 272.68 L428.49 271.49 L428.81 270.29 L429.1 269.05 L429.35 267.79 L429.59 266.5 L429.84 265.21 L430.11 263.91 L430.4 262.61 L430.71 261.33 L431.04 260.05 L431.39 258.77 L431.77 257.48 L432.2 256.17 L432.68 254.83 L433.22 253.47 L433.78 252.1 L434.35 250.73 L434.9 249.39 L435.43 248.09 L435.96 246.81 L436.49 245.54 L437 244.26 L437.5 242.95 L437.99 241.61 L438.47 240.25 L438.93 238.87 L439.38 237.51 L439.8 236.17 L440.21 234.91 L440.62 233.72 L441 232.51 L441.34 231.21 L441.6 229.73 L441.78 227.87 L441.88 225.7 L441.94 223.5 L441.97 221.58 L442 220.24Z" fill="url(#spg)" stroke="#4a4a4a" stroke-width="0.5"/>
<line x1="442.5" y1="220.24" x2="442.5" y2="341.26" stroke="#222" stroke-width="0.6" />
<rect x="441.1" y="264.65" width="2.8" height="31.53" fill="#000"/>
<circle cx="442.5" cy="278.55" r="1.45" fill="#fff"/>
<path d="M493.5 216.17 L493.66 217.35 L493.87 219.03 L494.13 220.97 L494.42 222.92 L494.7 224.65 L494.99 226.11 L495.3 227.5 L495.63 228.82 L495.96 230.12 L496.3 231.43 L496.64 232.73 L496.98 234.01 L497.33 235.28 L497.7 236.56 L498.1 237.87 L498.53 239.21 L498.98 240.57 L499.45 241.94 L499.93 243.31 L500.4 244.65 L500.87 245.96 L501.35 247.25 L501.83 248.53 L502.31 249.8 L502.8 251.09 L503.31 252.37 L503.84 253.65 L504.37 254.93 L504.86 256.22 L505.3 257.53 L505.68 258.87 L506.03 260.25 L506.33 261.63 L506.59 262.99 L506.8 264.31 L506.98 265.56 L507.13 266.75 L507.22 267.93 L507.22 269.14 L507.1 270.41 L506.83 271.76 L506.44 273.17 L505.96 274.61 L505.43 276.07 L504.9 277.53 L504.35 279 L503.76 280.49 L503.14 281.99 L502.51 283.49 L501.9 284.99 L501.29 286.48 L500.67 287.97 L500.05 289.46 L499.46 290.95 L498.9 292.45 L498.38 293.93 L497.87 295.41 L497.4 296.9 L496.97 298.39 L496.6 299.9 L496.29 301.45 L496.04 303.01 L495.83 304.59 L495.66 306.16 L495.5 307.7 L495.37 309.21 L495.28 310.71 L495.22 312.19 L495.16 313.67 L495.1 315.16 L495.03 316.72 L494.97 318.35 L494.91 319.95 L494.85 321.41 L494.8 322.62 L494.75 323.56 L494.7 324.3 L494.66 324.88 L494.63 325.32 L494.6 325.67 L491.2 325.67 L491.17 325.32 L491.14 324.88 L491.1 324.3 L491.05 323.56 L491 322.62 L490.95 321.41 L490.89 319.95 L490.83 318.35 L490.77 316.72 L490.7 315.16 L490.64 313.67 L490.58 312.19 L490.52 310.71 L490.43 309.21 L490.3 307.7 L490.14 306.16 L489.97 304.59 L489.76 303.01 L489.51 301.45 L489.2 299.9 L488.83 298.39 L488.4 296.9 L487.93 295.41 L487.42 293.93 L486.9 292.45 L486.34 290.95 L485.75 289.46 L485.13 287.97 L484.51 286.48 L483.9 284.99 L483.29 283.49 L482.66 281.99 L482.04 280.49 L481.45 279 L480.9 277.53 L480.37 276.07 L479.84 274.61 L479.36 273.17 L478.97 271.76 L478.7 270.41 L478.58 269.14 L478.58 267.93 L478.67 266.75 L478.82 265.56 L479 264.31 L479.21 262.99 L479.47 261.63 L479.77 260.25 L480.12 258.87 L480.5 257.53 L480.94 256.22 L481.43 254.93 L481.96 253.65 L482.49 252.37 L483 251.09 L483.49 249.8 L483.97 248.53 L484.45 247.25 L484.93 245.96 L485.4 244.65 L485.87 243.31 L486.35 241.94 L486.82 240.57 L487.27 239.21 L487.7 237.87 L488.1 236.56 L488.47 235.28 L488.82 234.01 L489.16 232.73 L489.5 231.43 L489.84 230.12 L490.17 228.82 L490.5 227.5 L490.81 226.11 L491.1 224.65 L491.38 222.92 L491.67 220.97 L491.93 219.03 L492.14 217.35 L492.3 216.17Z" fill="url(#spo)" stroke="#4a4a4a" stroke-width="0.5"/>
<line x1="492.9" y1="216.17" x2="492.9" y2="325.67" stroke="#222" stroke-width="0.6" />
<rect x="491.5" y="255.16" width="2.8" height="29.83" fill="#000"/>
<circle cx="492.9" cy="269.39" r="1.45" fill="#fff"/>
<line x1="373.3" y1="205.6" x2="373.3" y2="342.2" stroke="#333" stroke-width="1.3" />
<line x1="371.3" y1="341.6" x2="373.3" y2="341.6" stroke="#333" stroke-width="1.2" />
<text x="367.9" y="344.9" font-size="9.5" text-anchor="end" fill="#222"  stroke="#222" stroke-width="0.15">0</text>
<line x1="371.3" y1="307.7" x2="373.3" y2="307.7" stroke="#333" stroke-width="1.2" />
<text x="367.9" y="311" font-size="9.5" text-anchor="end" fill="#222"  stroke="#222" stroke-width="0.15">1</text>
<line x1="371.3" y1="273.8" x2="373.3" y2="273.8" stroke="#333" stroke-width="1.2" />
<text x="367.9" y="277.1" font-size="9.5" text-anchor="end" fill="#222"  stroke="#222" stroke-width="0.15">2</text>
<line x1="371.3" y1="239.9" x2="373.3" y2="239.9" stroke="#333" stroke-width="1.2" />
<text x="367.9" y="243.2" font-size="9.5" text-anchor="end" fill="#222"  stroke="#222" stroke-width="0.15">3</text>
<line x1="371.3" y1="206" x2="373.3" y2="206" stroke="#333" stroke-width="1.2" />
<text x="367.9" y="209.3" font-size="9.5" text-anchor="end" fill="#222"  stroke="#222" stroke-width="0.15">4</text>
<line x1="375.9" y1="346.1" x2="509.4" y2="346.1" stroke="#333" stroke-width="1.3" />
<line x1="375.9" y1="345.5" x2="375.9" y2="347.7" stroke="#333" stroke-width="1.1" />
<line x1="508.9" y1="345.5" x2="508.9" y2="347.7" stroke="#333" stroke-width="1.1" />
<line x1="391.8" y1="346.1" x2="391.8" y2="348.3" stroke="#333" stroke-width="1.2" />
<text x="391.8" y="360" font-size="9.7" text-anchor="middle" fill="#222"  stroke="#222" stroke-width="0.15">CTRL</text>
<line x1="442.5" y1="346.1" x2="442.5" y2="348.3" stroke="#333" stroke-width="1.2" />
<text x="442.5" y="360" font-size="9.7" text-anchor="middle" fill="#222"  stroke="#222" stroke-width="0.15">αCTLA4</text>
<line x1="492.9" y1="346.1" x2="492.9" y2="348.3" stroke="#333" stroke-width="1.2" />
<text x="492.9" y="360" font-size="9.7" text-anchor="middle" fill="#222"  stroke="#222" stroke-width="0.15">αPDL1</text>
<text x="356.8" y="273.1" font-size="10" text-anchor="middle" fill="#222" transform="rotate(-90 356.8 273.1)"  stroke="#222" stroke-width="0.15">Collagen scores (a.u.)</text>
<text x="0.5" y="376.5" font-size="13.5" text-anchor="start" fill="#000" font-weight="bold"  stroke="#000" stroke-width="0.15">G</text>
<rect x="88.5" y="402.2" width="76" height="110.8" fill="#c5e1b3"/>
<rect x="138.6" y="439.4" width="25.9" height="37.1" fill="#f9ad93"/>
<line x1="20.8" y1="384.2" x2="164.5" y2="384.2" stroke="#c8c8c8" stroke-width="0.8" />
<line x1="20.8" y1="402.2" x2="164.5" y2="402.2" stroke="#c8c8c8" stroke-width="0.8" />
<line x1="20.8" y1="439.4" x2="164.5" y2="439.4" stroke="#c8c8c8" stroke-width="0.8" />
<line x1="20.8" y1="476.5" x2="164.5" y2="476.5" stroke="#c8c8c8" stroke-width="0.8" />
<line x1="20.8" y1="513" x2="164.5" y2="513" stroke="#c8c8c8" stroke-width="0.8" />
<line x1="20.8" y1="384.2" x2="20.8" y2="513" stroke="#c8c8c8" stroke-width="0.8" />
<line x1="88.5" y1="384.2" x2="88.5" y2="513" stroke="#c8c8c8" stroke-width="0.8" />
<line x1="113.5" y1="384.2" x2="113.5" y2="513" stroke="#c8c8c8" stroke-width="0.8" />
<line x1="138.6" y1="384.2" x2="138.6" y2="513" stroke="#c8c8c8" stroke-width="0.8" />
<line x1="164.5" y1="384.2" x2="164.5" y2="513" stroke="#c8c8c8" stroke-width="0.8" />
<line x1="88.5" y1="439.4" x2="164.5" y2="439.4" stroke="#aecda5" stroke-width="0.8" />
<line x1="88.5" y1="476.5" x2="164.5" y2="476.5" stroke="#aecda5" stroke-width="0.8" />
<line x1="113.5" y1="402.2" x2="113.5" y2="513" stroke="#aecda5" stroke-width="0.8" />
<line x1="138.6" y1="402.2" x2="138.6" y2="513" stroke="#aecda5" stroke-width="0.8" />
<text x="99.2" y="381" font-size="9.5" fill="#222" stroke="#222" stroke-width="0.15">Effect size (<tspan font-style="italic">r</tspan>)</text>
<text x="101" y="396.3" font-size="8" text-anchor="middle" fill="#222"  stroke="#222" stroke-width="0.15">MC1</text>
<text x="126.05" y="396.3" font-size="8" text-anchor="middle" fill="#222"  stroke="#222" stroke-width="0.15">MC2</text>
<text x="151.55" y="396.3" font-size="8" text-anchor="middle" fill="#222"  stroke="#222" stroke-width="0.15">MC3</text>
<text x="55.65" y="413.1" font-size="9.9" text-anchor="middle" fill="#222"  stroke="#222" stroke-width="0.15">CTRL</text>
<text x="55.65" y="424.2" font-size="9.9" text-anchor="middle" fill="#222"  stroke="#222" stroke-width="0.15">vs.</text>
<text x="55.65" y="436.1" font-size="9.9" text-anchor="middle" fill="#222"  stroke="#222" stroke-width="0.15">αCTLA4</text>
<text x="101" y="424" font-size="8.2" text-anchor="middle" fill="#1c301c"  stroke="#1c301c" stroke-width="0.15">+0.06</text>
<text x="126.05" y="424" font-size="8.2" text-anchor="middle" fill="#1c301c"  stroke="#1c301c" stroke-width="0.15">−0.10</text>
<text x="151.55" y="424" font-size="8.2" text-anchor="middle" fill="#1c301c"  stroke="#1c301c" stroke-width="0.15">−0.26</text>
<text x="55.65" y="450.3" font-size="9.9" text-anchor="middle" fill="#222"  stroke="#222" stroke-width="0.15">CTRL</text>
<text x="55.65" y="461.4" font-size="9.9" text-anchor="middle" fill="#222"  stroke="#222" stroke-width="0.15">vs.</text>
<text x="55.65" y="473.3" font-size="9.9" text-anchor="middle" fill="#222"  stroke="#222" stroke-width="0.15">αPDL1</text>
<text x="101" y="461.15" font-size="8.2" text-anchor="middle" fill="#1c301c"  stroke="#1c301c" stroke-width="0.15">−0.32</text>
<text x="126.05" y="461.15" font-size="8.2" text-anchor="middle" fill="#1c301c"  stroke="#1c301c" stroke-width="0.15">−0.31</text>
<text x="151.55" y="461.15" font-size="8.2" text-anchor="middle" fill="#3a1a10"  stroke="#3a1a10" stroke-width="0.15">−0.03</text>
<text x="55.65" y="487.4" font-size="9.9" text-anchor="middle" fill="#222"  stroke="#222" stroke-width="0.15">αCTLA4</text>
<text x="55.65" y="498.5" font-size="9.9" text-anchor="middle" fill="#222"  stroke="#222" stroke-width="0.15">vs.</text>
<text x="55.65" y="510.4" font-size="9.9" text-anchor="middle" fill="#222"  stroke="#222" stroke-width="0.15">αPDL1</text>
<text x="101" y="497.95" font-size="8.2" text-anchor="middle" fill="#1c301c"  stroke="#1c301c" stroke-width="0.15">−0.34</text>
<text x="126.05" y="497.95" font-size="8.2" text-anchor="middle" fill="#1c301c"  stroke="#1c301c" stroke-width="0.15">−0.21</text>
<text x="151.55" y="497.95" font-size="8.2" text-anchor="middle" fill="#1c301c"  stroke="#1c301c" stroke-width="0.15">+0.26</text>
<text x="16" y="457" font-size="9.5" text-anchor="middle" fill="#222" transform="rotate(-90 16 457)"  stroke="#222" stroke-width="0.15">MCR score comparisions</text>
<text x="22.5" y="522.6" font-size="7.6" text-anchor="start" fill="#222"  stroke="#222" stroke-width="0.15">Wilcoxon rank-sum</text>
<text x="22.5" y="530.6" font-size="7.6" text-anchor="start" fill="#222"  stroke="#222" stroke-width="0.15">test statistic:</text>
<rect x="91.6" y="517.5" width="34.4" height="14.5" fill="#c5e1b3"/>
<rect x="128.5" y="517" width="35" height="15" fill="#f5a4ac"/>
<text x="107.5" y="527" font-size="8" text-anchor="middle" fill="#1c301c" stroke="#1c301c" stroke-width="0.15"><tspan font-style="italic">P</tspan> &lt; 0.05</text>
<text x="144.3" y="527" font-size="8" text-anchor="middle" fill="#3a1a14" stroke="#3a1a14" stroke-width="0.15"><tspan font-style="italic">P</tspan> ≥ 0.05</text>
<text x="169" y="375.5" font-size="13.5" text-anchor="start" fill="#000" font-weight="bold"  stroke="#000" stroke-width="0.15">H</text>
<line x1="196.1" y1="413.6" x2="258.7" y2="390.6" stroke="#e3e3e3" stroke-width="0.7" />
<line x1="213.72" y1="418.77" x2="276.33" y2="395.77" stroke="#e3e3e3" stroke-width="0.7" />
<line x1="231.35" y1="423.95" x2="293.95" y2="400.95" stroke="#e3e3e3" stroke-width="0.7" />
<line x1="248.97" y1="429.12" x2="311.58" y2="406.12" stroke="#e3e3e3" stroke-width="0.7" />
<line x1="266.6" y1="434.3" x2="329.2" y2="411.3" stroke="#e3e3e3" stroke-width="0.7" />
<line x1="196.1" y1="413.6" x2="266.6" y2="434.3" stroke="#e3e3e3" stroke-width="0.7" />
<line x1="216.97" y1="405.93" x2="287.47" y2="426.63" stroke="#e3e3e3" stroke-width="0.7" />
<line x1="237.83" y1="398.27" x2="308.33" y2="418.97" stroke="#e3e3e3" stroke-width="0.7" />
<line x1="258.7" y1="390.6" x2="329.2" y2="411.3" stroke="#e3e3e3" stroke-width="0.7" />
<line x1="196.1" y1="482.4" x2="266.6" y2="503.1" stroke="#e3e3e3" stroke-width="0.7" />
<line x1="196.1" y1="465.2" x2="266.6" y2="485.9" stroke="#e3e3e3" stroke-width="0.7" />
<line x1="196.1" y1="448" x2="266.6" y2="468.7" stroke="#e3e3e3" stroke-width="0.7" />
<line x1="196.1" y1="430.8" x2="266.6" y2="451.5" stroke="#e3e3e3" stroke-width="0.7" />
<line x1="196.1" y1="413.6" x2="266.6" y2="434.3" stroke="#e3e3e3" stroke-width="0.7" />
<line x1="196.1" y1="482.4" x2="196.1" y2="413.6" stroke="#e3e3e3" stroke-width="0.7" />
<line x1="213.72" y1="487.57" x2="213.72" y2="418.77" stroke="#e3e3e3" stroke-width="0.7" />
<line x1="231.35" y1="492.75" x2="231.35" y2="423.95" stroke="#e3e3e3" stroke-width="0.7" />
<line x1="248.97" y1="497.92" x2="248.97" y2="429.12" stroke="#e3e3e3" stroke-width="0.7" />
<line x1="266.6" y1="503.1" x2="266.6" y2="434.3" stroke="#e3e3e3" stroke-width="0.7" />
<line x1="266.6" y1="503.1" x2="329.2" y2="480.1" stroke="#e3e3e3" stroke-width="0.7" />
<line x1="266.6" y1="485.9" x2="329.2" y2="462.9" stroke="#e3e3e3" stroke-width="0.7" />
<line x1="266.6" y1="468.7" x2="329.2" y2="445.7" stroke="#e3e3e3" stroke-width="0.7" />
<line x1="266.6" y1="451.5" x2="329.2" y2="428.5" stroke="#e3e3e3" stroke-width="0.7" />
<line x1="266.6" y1="434.3" x2="329.2" y2="411.3" stroke="#e3e3e3" stroke-width="0.7" />
<line x1="266.6" y1="503.1" x2="266.6" y2="434.3" stroke="#e3e3e3" stroke-width="0.7" />
<line x1="287.47" y1="495.43" x2="287.47" y2="426.63" stroke="#e3e3e3" stroke-width="0.7" />
<line x1="308.33" y1="487.77" x2="308.33" y2="418.97" stroke="#e3e3e3" stroke-width="0.7" />
<line x1="329.2" y1="480.1" x2="329.2" y2="411.3" stroke="#e3e3e3" stroke-width="0.7" />
<line x1="196.1" y1="482.4" x2="196.1" y2="413.6" stroke="#555" stroke-width="0.9" />
<line x1="196.1" y1="482.4" x2="266.6" y2="503.1" stroke="#555" stroke-width="0.9" />
<line x1="266.6" y1="503.1" x2="329.2" y2="480.1" stroke="#555" stroke-width="0.9" />
<line x1="194.3" y1="482.4" x2="196.1" y2="482.4" stroke="#555" stroke-width="0.9" />
<text x="192.8" y="485.8" font-size="9.5" text-anchor="end" fill="#222"  stroke="#222" stroke-width="0.15">0</text>
<line x1="194.3" y1="465.2" x2="196.1" y2="465.2" stroke="#555" stroke-width="0.9" />
<text x="192.8" y="468.6" font-size="9.5" text-anchor="end" fill="#222"  stroke="#222" stroke-width="0.15">1</text>
<line x1="194.3" y1="448" x2="196.1" y2="448" stroke="#555" stroke-width="0.9" />
<text x="192.8" y="451.4" font-size="9.5" text-anchor="end" fill="#222"  stroke="#222" stroke-width="0.15">2</text>
<line x1="194.3" y1="430.8" x2="196.1" y2="430.8" stroke="#555" stroke-width="0.9" />
<text x="192.8" y="434.2" font-size="9.5" text-anchor="end" fill="#222"  stroke="#222" stroke-width="0.15">3</text>
<line x1="194.3" y1="413.6" x2="196.1" y2="413.6" stroke="#555" stroke-width="0.9" />
<text x="192.8" y="417" font-size="9.5" text-anchor="end" fill="#222"  stroke="#222" stroke-width="0.15">4</text>
<text x="192.3" y="492.7" font-size="9.5" text-anchor="middle" fill="#222"  stroke="#222" stroke-width="0.15">0</text>
<text x="208.7" y="498.8" font-size="9.5" text-anchor="middle" fill="#222"  stroke="#222" stroke-width="0.15">1</text>
<text x="227.8" y="503.9" font-size="9.5" text-anchor="middle" fill="#222"  stroke="#222" stroke-width="0.15">2</text>
<text x="244.2" y="509.1" font-size="9.5" text-anchor="middle" fill="#222"  stroke="#222" stroke-width="0.15">3</text>
<text x="261.5" y="513.4" font-size="9.5" text-anchor="middle" fill="#222"  stroke="#222" stroke-width="0.15">4</text>
<text x="271.2" y="513.4" font-size="9.5" text-anchor="middle" fill="#222"  stroke="#222" stroke-width="0.15">0</text>
<text x="292" y="504.8" font-size="9.5" text-anchor="middle" fill="#222"  stroke="#222" stroke-width="0.15">1</text>
<text x="312.8" y="497" font-size="9.5" text-anchor="middle" fill="#222"  stroke="#222" stroke-width="0.15">2</text>
<text x="333.5" y="489.2" font-size="9.5" text-anchor="middle" fill="#222"  stroke="#222" stroke-width="0.15">3</text>
<text x="223.5" y="514" font-size="9.6" text-anchor="middle" fill="#222" transform="rotate(16.3 223.5 514)"  stroke="#222" stroke-width="0.15">Nucleic acid (a.u.)</text>
<text x="310.8" y="512.3" font-size="9.6" text-anchor="middle" fill="#222" transform="rotate(-21 310.8 512.3)"  stroke="#222" stroke-width="0.15">Lipid (a.u.)</text>
<text x="180.3" y="443.1" font-size="9.6" text-anchor="middle" fill="#222" transform="rotate(-90 180.3 443.1)"  stroke="#222" stroke-width="0.15">Collagen (a.u.)</text>
<circle cx="217" cy="442.6" r="1.85" fill="#e9a23b"/>
<circle cx="228.6" cy="441.4" r="1.85" fill="#e9a23b"/>
<circle cx="225.7" cy="449.7" r="1.85" fill="#e9a23b"/>
<circle cx="231.6" cy="430.7" r="1.85" fill="#e9a23b"/>
<circle cx="243.5" cy="436.6" r="1.85" fill="#e9a23b"/>
<circle cx="244.6" cy="445.2" r="1.85" fill="#e9a23b"/>
<circle cx="255.3" cy="436.1" r="1.85" fill="#e9a23b"/>
<circle cx="232.4" cy="434.2" r="1.85" fill="#1d9a6c"/>
<circle cx="249.2" cy="437.1" r="1.85" fill="#1d9a6c"/>
<circle cx="248.9" cy="444" r="1.85" fill="#1d9a6c"/>
<circle cx="223.1" cy="458.2" r="1.85" fill="#1d9a6c"/>
<circle cx="262.4" cy="450.7" r="1.85" fill="#1d9a6c"/>
<circle cx="295.3" cy="449.3" r="1.85" fill="#1d9a6c"/>
<circle cx="304.5" cy="453.5" r="1.85" fill="#1d9a6c"/>
<circle cx="240" cy="436.6" r="1.85" fill="#1f5f9e"/>
<circle cx="234.5" cy="448.3" r="1.85" fill="#1f5f9e"/>
<circle cx="263.8" cy="435" r="1.85" fill="#1f5f9e"/>
<circle cx="266.6" cy="419.7" r="1.85" fill="#1f5f9e"/>
<circle cx="266.9" cy="427.5" r="1.85" fill="#1f5f9e"/>
<circle cx="267.8" cy="432.7" r="1.85" fill="#1f5f9e"/>
<circle cx="308.2" cy="446.7" r="1.85" fill="#1f5f9e"/>
<circle cx="279" cy="448.2" r="1.85" fill="#1f5f9e"/>
<circle cx="269.5" cy="456.4" r="1.85" fill="#1f5f9e"/>
<circle cx="262.6" cy="478.9" r="1.85" fill="#1f5f9e"/>
<rect x="323.4" y="376" width="47.2" height="32.1" fill="#fff" stroke="#d9d2c3" stroke-width="0.8"/>
<circle cx="326.8" cy="382.1" r="1.6" fill="#1f5f9e"/>
<text x="333.5" y="385.5" font-size="9.6" text-anchor="start" fill="#222"  stroke="#222" stroke-width="0.15">CTRL</text>
<circle cx="326.8" cy="392.25" r="1.6" fill="#1d9a6c"/>
<text x="333.5" y="395.65" font-size="9.6" text-anchor="start" fill="#222"  stroke="#222" stroke-width="0.15">αCTLA4</text>
<circle cx="326.8" cy="402.4" r="1.6" fill="#e9a23b"/>
<text x="333.5" y="405.8" font-size="9.6" text-anchor="start" fill="#222"  stroke="#222" stroke-width="0.15">αPDL1</text>
<text x="373.8" y="375.5" font-size="13.5" text-anchor="start" fill="#000" font-weight="bold"  stroke="#000" stroke-width="0.15">I</text>
<line x1="401.1" y1="391.8" x2="401.1" y2="498.1" stroke="#333" stroke-width="1.3" />
<line x1="399.1" y1="497.5" x2="401.1" y2="497.5" stroke="#333" stroke-width="1.2" />
<text x="395.6" y="500.8" font-size="9.5" text-anchor="end" fill="#222"  stroke="#222" stroke-width="0.15">0</text>
<line x1="399.1" y1="471.25" x2="401.1" y2="471.25" stroke="#333" stroke-width="1.2" />
<text x="395.6" y="474.55" font-size="9.5" text-anchor="end" fill="#222"  stroke="#222" stroke-width="0.15">1</text>
<line x1="399.1" y1="445" x2="401.1" y2="445" stroke="#333" stroke-width="1.2" />
<text x="395.6" y="448.3" font-size="9.5" text-anchor="end" fill="#222"  stroke="#222" stroke-width="0.15">2</text>
<line x1="399.1" y1="418.75" x2="401.1" y2="418.75" stroke="#333" stroke-width="1.2" />
<text x="395.6" y="422.05" font-size="9.5" text-anchor="end" fill="#222"  stroke="#222" stroke-width="0.15">3</text>
<line x1="399.1" y1="392.5" x2="401.1" y2="392.5" stroke="#333" stroke-width="1.2" />
<text x="395.6" y="395.8" font-size="9.5" text-anchor="end" fill="#222"  stroke="#222" stroke-width="0.15">4</text>
<line x1="400.8" y1="501.2" x2="516.5" y2="501.2" stroke="#333" stroke-width="1.3" />
<line x1="401.1" y1="501.2" x2="401.1" y2="499" stroke="#333" stroke-width="1.2" />
<text x="401.1" y="513.7" font-size="9.5" text-anchor="middle" fill="#222"  stroke="#222" stroke-width="0.15">0</text>
<line x1="429.9" y1="501.2" x2="429.9" y2="499" stroke="#333" stroke-width="1.2" />
<text x="429.9" y="513.7" font-size="9.5" text-anchor="middle" fill="#222"  stroke="#222" stroke-width="0.15">1</text>
<line x1="458.7" y1="501.2" x2="458.7" y2="499" stroke="#333" stroke-width="1.2" />
<text x="458.7" y="513.7" font-size="9.5" text-anchor="middle" fill="#222"  stroke="#222" stroke-width="0.15">2</text>
<line x1="487.5" y1="501.2" x2="487.5" y2="499" stroke="#333" stroke-width="1.2" />
<text x="487.5" y="513.7" font-size="9.5" text-anchor="middle" fill="#222"  stroke="#222" stroke-width="0.15">3</text>
<line x1="516.3" y1="501.2" x2="516.3" y2="499" stroke="#333" stroke-width="1.2" />
<text x="516.3" y="513.7" font-size="9.5" text-anchor="middle" fill="#222"  stroke="#222" stroke-width="0.15">4</text>
<text x="458.8" y="525" font-size="9.5" text-anchor="middle" fill="#222"  stroke="#222" stroke-width="0.15">Lipid (a.u.)</text>
<text x="387" y="443" font-size="10" text-anchor="middle" fill="#222" transform="rotate(-90 387 443)"  stroke="#222" stroke-width="0.15">Nucleic acid (a.u.)</text>
<path d="M413.7 412 L414.03 410.49 L414.47 408.31 L415.11 405.98 L416 404 L417.15 402.48 L418.52 401.16 L420.13 400 L422 399 L424.03 398.16 L426.25 397.5 L428.84 396.96 L432 396.5 L435.66 396.12 L439.75 395.84 L444.47 395.64 L450 395.5 L456.77 395.44 L464.56 395.46 L472.57 395.53 L480 395.6 L487.02 395.64 L493.94 395.68 L500.13 395.78 L505 396 L508.08 396.32 L509.79 396.71 L510.86 397.25 L512 398 L513.4 398.99 L514.67 400.19 L515.68 401.54 L516.3 403 L516.5 404.54 L516.36 406.19 L515.86 407.99 L515 410 L513.77 412.2 L512.17 414.56 L510.24 417.15 L508 420 L505.3 423.27 L502.19 426.88 L498.98 430.55 L496 434 L493.31 437.26 L490.75 440.44 L488.31 443.4 L486 446 L483.82 448.23 L481.78 450.14 L479.85 451.74 L478 453 L476.34 453.85 L474.84 454.33 L473.3 454.57 L471.5 454.7 L469.39 454.75 L467.09 454.64 L464.62 454.39 L462 454 L459.18 453.48 L456.16 452.83 L453.06 452.01 L450 451 L447 449.8 L444 448.44 L441 446.85 L438 445 L434.91 442.78 L431.75 440.25 L428.72 437.59 L426 435 L423.61 432.43 L421.47 429.81 L419.59 427.29 L418 425 L416.75 423.02 L415.8 421.25 L415.08 419.61 L414.5 418 L414.09 416.29 L413.88 414.56 L413.78 413.05 L413.7 412" stroke="#4a8fb5" stroke-width="0.9" fill="none" stroke-linejoin="round" />
<path d="M403.4 470 L403.54 467.37 L403.73 463.56 L404.03 459.48 L404.5 456 L405.15 453.25 L405.94 450.8 L406.89 448.7 L408 447 L409.32 445.79 L410.84 445.02 L412.44 444.54 L414 444.2 L415.41 444.01 L416.75 444.02 L418.22 444.2 L420 444.5 L422.1 444.91 L424.44 445.46 L427.05 446.15 L430 447 L433.4 448.05 L437.19 449.28 L441.13 450.62 L445 452 L448.82 453.45 L452.69 455 L456.46 456.55 L460 458 L463.38 459.32 L466.62 460.56 L469.56 461.77 L472 463 L473.87 464.25 L475.28 465.5 L476.3 466.75 L477 468 L477.4 469.2 L477.47 470.38 L477.18 471.61 L476.5 473 L475.33 474.61 L473.72 476.38 L471.87 478.2 L470 480 L468.15 481.75 L466.22 483.5 L464.18 485.25 L462 487 L459.57 488.83 L456.94 490.72 L454.34 492.5 L452 494 L450.23 495.17 L448.81 496.11 L447.24 496.86 L445 497.5 L441.81 498.04 L438 498.45 L433.94 498.71 L430 498.8 L426.09 498.71 L422.06 498.45 L418.26 498.04 L415 497.5 L412.39 496.91 L410.25 496.23 L408.48 495.31 L407 494 L405.84 492.28 L405.04 490.22 L404.46 487.8 L404 485 L403.67 481.32 L403.51 476.94 L403.45 472.84 L403.4 470" stroke="#e6b47a" stroke-width="0.9" fill="none" stroke-linejoin="round" />
<text x="494.9" y="445.4" font-size="9.5" text-anchor="start" fill="#3a78ad"  stroke="#3a78ad" stroke-width="0.15">CTRL</text>
<text x="470.7" y="490.8" font-size="9.5" text-anchor="start" fill="#e5a15a"  stroke="#e5a15a" stroke-width="0.15">αPDL1</text>
<circle cx="422.4" cy="451" r="1.6" fill="#e9a23b"/>
<circle cx="414.1" cy="468" r="1.6" fill="#e9a23b"/>
<circle cx="439.7" cy="467.2" r="1.6" fill="#e9a23b"/>
<circle cx="467.9" cy="467" r="1.6" fill="#e9a23b"/>
<circle cx="413.7" cy="477.1" r="1.6" fill="#e9a23b"/>
<circle cx="406.5" cy="487.5" r="1.6" fill="#e9a23b"/>
<circle cx="443.7" cy="494.4" r="1.6" fill="#e9a23b"/>
<circle cx="459.9" cy="392.6" r="1.6" fill="#1d9a6c"/>
<circle cx="422" cy="444" r="1.6" fill="#1d9a6c"/>
<circle cx="453.2" cy="444.4" r="1.6" fill="#1d9a6c"/>
<circle cx="474.1" cy="447.1" r="1.6" fill="#1d9a6c"/>
<circle cx="475.6" cy="447.1" r="1.6" fill="#1d9a6c"/>
<circle cx="513.9" cy="417.2" r="1.6" fill="#1d9a6c"/>
<circle cx="452.7" cy="466.8" r="1.6" fill="#1d9a6c"/>
<circle cx="431.6" cy="479.7" r="1.6" fill="#1d9a6c"/>
<circle cx="418.4" cy="485.8" r="1.6" fill="#1d9a6c"/>
<circle cx="438.1" cy="403.9" r="1.6" fill="#1f5f9e"/>
<circle cx="430.2" cy="418.9" r="1.6" fill="#1f5f9e"/>
<circle cx="432.8" cy="419.2" r="1.6" fill="#1f5f9e"/>
<circle cx="438.1" cy="425.3" r="1.6" fill="#1f5f9e"/>
<circle cx="436.7" cy="429" r="1.6" fill="#1f5f9e"/>
<circle cx="441.2" cy="435" r="1.6" fill="#1f5f9e"/>
<circle cx="415.8" cy="454.5" r="1.6" fill="#1f5f9e"/>
<circle cx="442.3" cy="484" r="1.6" fill="#1f5f9e"/>
<circle cx="507.3" cy="405.6" r="1.6" fill="#1f5f9e"/>
</svg>
</body></html>
